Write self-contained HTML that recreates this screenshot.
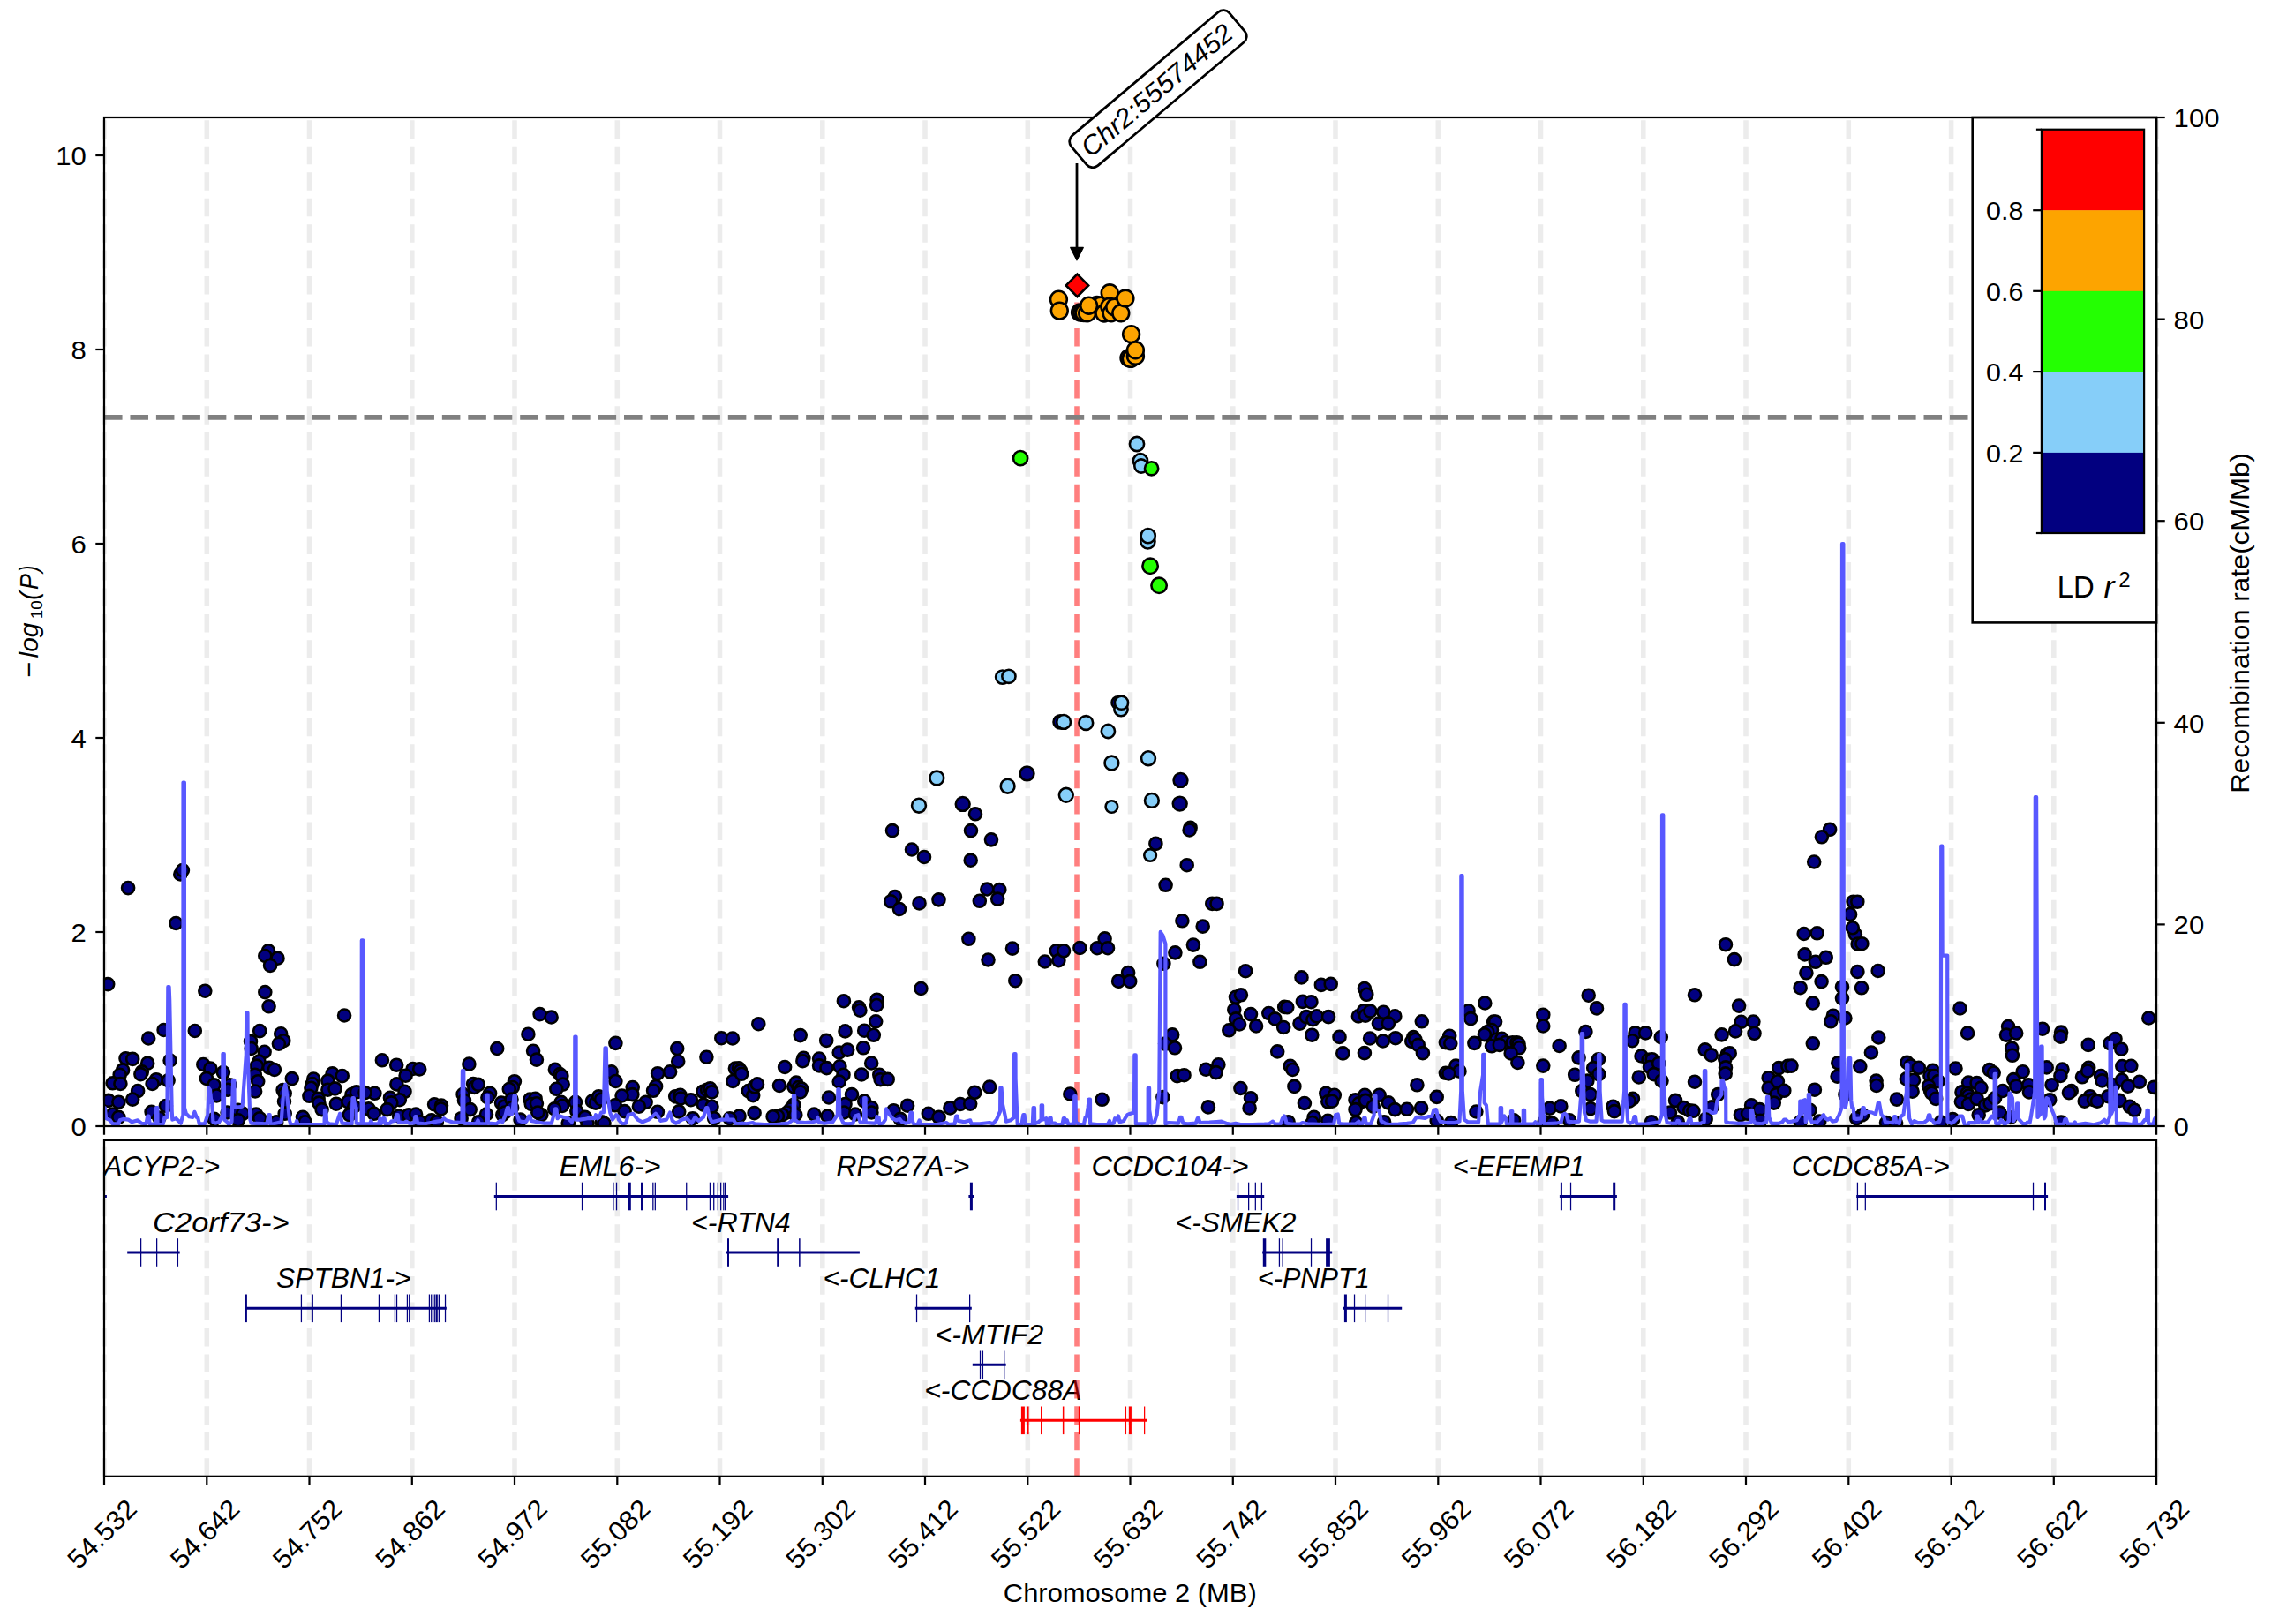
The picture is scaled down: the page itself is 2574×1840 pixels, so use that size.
<!DOCTYPE html>
<html><head><meta charset="utf-8"><title>Regional plot</title><style>html,body{margin:0;padding:0;background:#fff}svg{display:block}</style></head><body>
<svg width="2574" height="1840" viewBox="0 0 2574 1840" font-family="'Liberation Sans', sans-serif" fill="#000">
<rect width="2574" height="1840" fill="#fff"/>
<defs><clipPath id="cp"><rect x="118.0" y="133.0" width="2325.06" height="1143.0"/></clipPath><clipPath id="cg"><rect x="118.0" y="1291.9" width="2325.06" height="380.89999999999986"/></clipPath></defs>
<g stroke="#ececec" stroke-width="5.56" stroke-dasharray="20.56 8.89" fill="none">
<path d="M118 1276.0V133.0"/>
<path d="M118 1672.8V1291.9"/>
<path d="M234.3 1276.0V133.0"/>
<path d="M234.3 1672.8V1291.9"/>
<path d="M350.5 1276.0V133.0"/>
<path d="M350.5 1672.8V1291.9"/>
<path d="M466.8 1276.0V133.0"/>
<path d="M466.8 1672.8V1291.9"/>
<path d="M583 1276.0V133.0"/>
<path d="M583 1672.8V1291.9"/>
<path d="M699.3 1276.0V133.0"/>
<path d="M699.3 1672.8V1291.9"/>
<path d="M815.5 1276.0V133.0"/>
<path d="M815.5 1672.8V1291.9"/>
<path d="M931.8 1276.0V133.0"/>
<path d="M931.8 1672.8V1291.9"/>
<path d="M1048 1276.0V133.0"/>
<path d="M1048 1672.8V1291.9"/>
<path d="M1164.3 1276.0V133.0"/>
<path d="M1164.3 1672.8V1291.9"/>
<path d="M1280.5 1276.0V133.0"/>
<path d="M1280.5 1672.8V1291.9"/>
<path d="M1396.8 1276.0V133.0"/>
<path d="M1396.8 1672.8V1291.9"/>
<path d="M1513 1276.0V133.0"/>
<path d="M1513 1672.8V1291.9"/>
<path d="M1629.3 1276.0V133.0"/>
<path d="M1629.3 1672.8V1291.9"/>
<path d="M1745.5 1276.0V133.0"/>
<path d="M1745.5 1672.8V1291.9"/>
<path d="M1861.8 1276.0V133.0"/>
<path d="M1861.8 1672.8V1291.9"/>
<path d="M1978 1276.0V133.0"/>
<path d="M1978 1672.8V1291.9"/>
<path d="M2094.3 1276.0V133.0"/>
<path d="M2094.3 1672.8V1291.9"/>
<path d="M2210.6 1276.0V133.0"/>
<path d="M2210.6 1672.8V1291.9"/>
<path d="M2326.8 1276.0V133.0"/>
<path d="M2326.8 1672.8V1291.9"/>
<path d="M2443.1 1276.0V133.0"/>
<path d="M2443.1 1672.8V1291.9"/>
</g>
<g stroke="#ff0000" stroke-opacity="0.5" stroke-width="5.56" stroke-dasharray="20.56 8.89" fill="none"><path d="M1220.0 1276.0V323.4"/></g>
<path d="M118.0 472.9H2443.06" stroke="#808080" stroke-width="5.56" stroke-dasharray="20.56 8.89" fill="none"/>
<g clip-path="url(#cp)" stroke="#000" stroke-width="2.6">
<circle cx="122.2" cy="1115.1" r="7" fill="#020080"/>
<circle cx="232.3" cy="1122.7" r="7" fill="#020080"/>
<circle cx="304" cy="1077.3" r="7" fill="#020080"/>
<circle cx="300.3" cy="1083" r="7" fill="#020080"/>
<circle cx="314.5" cy="1085.7" r="7" fill="#020080"/>
<circle cx="306.1" cy="1093.9" r="7" fill="#020080"/>
<circle cx="300.3" cy="1124.1" r="7" fill="#020080"/>
<circle cx="304.6" cy="1140.3" r="7" fill="#020080"/>
<circle cx="390.1" cy="1150.5" r="7" fill="#020080"/>
<circle cx="185.6" cy="1167" r="7" fill="#020080"/>
<circle cx="220.8" cy="1168" r="7" fill="#020080"/>
<circle cx="168.2" cy="1176.5" r="7" fill="#020080"/>
<circle cx="294.2" cy="1168.1" r="7" fill="#020080"/>
<circle cx="318.2" cy="1171.3" r="7" fill="#020080"/>
<circle cx="321.3" cy="1179.2" r="7" fill="#020080"/>
<circle cx="315.9" cy="1182.6" r="7" fill="#020080"/>
<circle cx="284" cy="1179.9" r="7" fill="#020080"/>
<circle cx="284.7" cy="1188" r="7" fill="#020080"/>
<circle cx="299.6" cy="1191.8" r="7" fill="#020080"/>
<circle cx="142.5" cy="1199.2" r="7" fill="#020080"/>
<circle cx="150.2" cy="1199.9" r="7" fill="#020080"/>
<circle cx="167.2" cy="1204.7" r="7" fill="#020080"/>
<circle cx="192.6" cy="1201.5" r="7" fill="#020080"/>
<circle cx="230.3" cy="1206" r="7" fill="#020080"/>
<circle cx="238.4" cy="1210.6" r="7" fill="#020080"/>
<circle cx="252.9" cy="1215.1" r="7" fill="#020080"/>
<circle cx="293.5" cy="1202.6" r="7" fill="#020080"/>
<circle cx="290.8" cy="1207.6" r="7" fill="#020080"/>
<circle cx="305" cy="1209.7" r="7" fill="#020080"/>
<circle cx="310.9" cy="1212" r="7" fill="#020080"/>
<circle cx="139.1" cy="1212.4" r="7" fill="#020080"/>
<circle cx="135.7" cy="1217.8" r="7" fill="#020080"/>
<circle cx="160.8" cy="1214.4" r="7" fill="#020080"/>
<circle cx="159.4" cy="1217.1" r="7" fill="#020080"/>
<circle cx="177" cy="1223.2" r="7" fill="#020080"/>
<circle cx="172.6" cy="1228" r="7" fill="#020080"/>
<circle cx="190.6" cy="1224.2" r="7" fill="#020080"/>
<circle cx="127.6" cy="1227.3" r="7" fill="#020080"/>
<circle cx="136.4" cy="1228" r="7" fill="#020080"/>
<circle cx="233.9" cy="1221.9" r="7" fill="#020080"/>
<circle cx="242.5" cy="1229.3" r="7" fill="#020080"/>
<circle cx="260.3" cy="1229.3" r="7" fill="#020080"/>
<circle cx="258.3" cy="1234.7" r="7" fill="#020080"/>
<circle cx="245.4" cy="1241.5" r="7" fill="#020080"/>
<circle cx="288.8" cy="1217.8" r="7" fill="#020080"/>
<circle cx="292.2" cy="1225.2" r="7" fill="#020080"/>
<circle cx="289.1" cy="1236.5" r="7" fill="#020080"/>
<circle cx="330.8" cy="1222.1" r="7" fill="#020080"/>
<circle cx="320.6" cy="1235.1" r="7" fill="#020080"/>
<circle cx="322.7" cy="1238.8" r="7" fill="#020080"/>
<circle cx="322" cy="1248" r="7" fill="#020080"/>
<circle cx="156.1" cy="1236.1" r="7" fill="#020080"/>
<circle cx="150.2" cy="1245.6" r="7" fill="#020080"/>
<circle cx="122.9" cy="1246.9" r="7" fill="#020080"/>
<circle cx="134.4" cy="1248.7" r="7" fill="#020080"/>
<circle cx="355.2" cy="1222.5" r="7" fill="#020080"/>
<circle cx="353.8" cy="1228" r="7" fill="#020080"/>
<circle cx="352.4" cy="1232.7" r="7" fill="#020080"/>
<circle cx="350.4" cy="1241.8" r="7" fill="#020080"/>
<circle cx="376.6" cy="1216.4" r="7" fill="#020080"/>
<circle cx="387.7" cy="1219.1" r="7" fill="#020080"/>
<circle cx="371.4" cy="1224.6" r="7" fill="#020080"/>
<circle cx="371.4" cy="1234.7" r="7" fill="#020080"/>
<circle cx="379.5" cy="1233.4" r="7" fill="#020080"/>
<circle cx="360.6" cy="1244.9" r="7" fill="#020080"/>
<circle cx="361.3" cy="1249.6" r="7" fill="#020080"/>
<circle cx="364.6" cy="1257.1" r="7" fill="#020080"/>
<circle cx="380.9" cy="1250.7" r="7" fill="#020080"/>
<circle cx="187.9" cy="1253" r="7" fill="#020080"/>
<circle cx="171.6" cy="1259.8" r="7" fill="#020080"/>
<circle cx="127.6" cy="1262.5" r="7" fill="#020080"/>
<circle cx="134.4" cy="1265.9" r="7" fill="#020080"/>
<circle cx="257.6" cy="1260.5" r="7" fill="#020080"/>
<circle cx="269.8" cy="1257.8" r="7" fill="#020080"/>
<circle cx="275.2" cy="1261.8" r="7" fill="#020080"/>
<circle cx="290.1" cy="1262.5" r="7" fill="#020080"/>
<circle cx="294.2" cy="1267.2" r="7" fill="#020080"/>
<circle cx="322.7" cy="1261.8" r="7" fill="#020080"/>
<circle cx="343" cy="1265.9" r="7" fill="#020080"/>
<circle cx="242.7" cy="1267.9" r="7" fill="#020080"/>
<circle cx="398.5" cy="1240.1" r="7" fill="#020080"/>
<circle cx="403.9" cy="1237.4" r="7" fill="#020080"/>
<circle cx="394.4" cy="1248.3" r="7" fill="#020080"/>
<circle cx="401.2" cy="1253.7" r="7" fill="#020080"/>
<circle cx="395.8" cy="1263.2" r="7" fill="#020080"/>
<circle cx="180.4" cy="1266.6" r="7" fill="#020080"/>
<circle cx="313.2" cy="1271.3" r="7" fill="#020080"/>
<circle cx="269.8" cy="1269.3" r="7" fill="#020080"/>
<circle cx="345.7" cy="1271.3" r="7" fill="#020080"/>
<circle cx="432.9" cy="1201.3" r="7" fill="#020080"/>
<circle cx="449.2" cy="1206.7" r="7" fill="#020080"/>
<circle cx="467.7" cy="1211" r="7" fill="#020080"/>
<circle cx="475.2" cy="1211.4" r="7" fill="#020080"/>
<circle cx="459.6" cy="1218.7" r="7" fill="#020080"/>
<circle cx="449.4" cy="1228.4" r="7" fill="#020080"/>
<circle cx="458.5" cy="1236.8" r="7" fill="#020080"/>
<circle cx="424.4" cy="1238.8" r="7" fill="#020080"/>
<circle cx="413.5" cy="1238.1" r="7" fill="#020080"/>
<circle cx="442" cy="1243.9" r="7" fill="#020080"/>
<circle cx="452.8" cy="1246.2" r="7" fill="#020080"/>
<circle cx="443.3" cy="1249.4" r="7" fill="#020080"/>
<circle cx="438.6" cy="1257.1" r="7" fill="#020080"/>
<circle cx="417.6" cy="1256.4" r="7" fill="#020080"/>
<circle cx="423.7" cy="1261.8" r="7" fill="#020080"/>
<circle cx="452.1" cy="1264.5" r="7" fill="#020080"/>
<circle cx="463" cy="1263.2" r="7" fill="#020080"/>
<circle cx="471.1" cy="1262.5" r="7" fill="#020080"/>
<circle cx="475.8" cy="1271.3" r="7" fill="#020080"/>
<circle cx="492.1" cy="1251.3" r="7" fill="#020080"/>
<circle cx="500" cy="1252.6" r="7" fill="#020080"/>
<circle cx="499.6" cy="1256.4" r="7" fill="#020080"/>
<circle cx="488.7" cy="1269.3" r="7" fill="#020080"/>
<circle cx="494.8" cy="1271.3" r="7" fill="#020080"/>
<circle cx="531.4" cy="1205.6" r="7" fill="#020080"/>
<circle cx="563.2" cy="1188" r="7" fill="#020080"/>
<circle cx="536.1" cy="1228" r="7" fill="#020080"/>
<circle cx="537.5" cy="1232" r="7" fill="#020080"/>
<circle cx="541.8" cy="1228.9" r="7" fill="#020080"/>
<circle cx="524.6" cy="1239.9" r="7" fill="#020080"/>
<circle cx="526" cy="1246.9" r="7" fill="#020080"/>
<circle cx="532.7" cy="1257.1" r="7" fill="#020080"/>
<circle cx="522.6" cy="1267.2" r="7" fill="#020080"/>
<circle cx="555.1" cy="1238.8" r="7" fill="#020080"/>
<circle cx="552.4" cy="1243.5" r="7" fill="#020080"/>
<circle cx="568" cy="1249.6" r="7" fill="#020080"/>
<circle cx="571.3" cy="1253.7" r="7" fill="#020080"/>
<circle cx="551" cy="1262.5" r="7" fill="#020080"/>
<circle cx="542.2" cy="1271.3" r="7" fill="#020080"/>
<circle cx="569.3" cy="1263.2" r="7" fill="#020080"/>
<circle cx="572" cy="1260.5" r="7" fill="#020080"/>
<circle cx="582.9" cy="1225.2" r="7" fill="#020080"/>
<circle cx="580.8" cy="1232" r="7" fill="#020080"/>
<circle cx="576.8" cy="1234" r="7" fill="#020080"/>
<circle cx="579.5" cy="1245.6" r="7" fill="#020080"/>
<circle cx="598.4" cy="1171.7" r="7" fill="#020080"/>
<circle cx="604.1" cy="1190.7" r="7" fill="#020080"/>
<circle cx="607.9" cy="1200.6" r="7" fill="#020080"/>
<circle cx="611.6" cy="1149.1" r="7" fill="#020080"/>
<circle cx="624.6" cy="1152.5" r="7" fill="#020080"/>
<circle cx="628.9" cy="1211.7" r="7" fill="#020080"/>
<circle cx="634.3" cy="1217.1" r="7" fill="#020080"/>
<circle cx="636.4" cy="1219.1" r="7" fill="#020080"/>
<circle cx="637.7" cy="1228.6" r="7" fill="#020080"/>
<circle cx="630.3" cy="1233.8" r="7" fill="#020080"/>
<circle cx="600.5" cy="1245.6" r="7" fill="#020080"/>
<circle cx="606.6" cy="1244.9" r="7" fill="#020080"/>
<circle cx="601.8" cy="1251" r="7" fill="#020080"/>
<circle cx="607.9" cy="1250.3" r="7" fill="#020080"/>
<circle cx="635.7" cy="1248.9" r="7" fill="#020080"/>
<circle cx="637" cy="1253" r="7" fill="#020080"/>
<circle cx="628.2" cy="1256.4" r="7" fill="#020080"/>
<circle cx="613.3" cy="1263.2" r="7" fill="#020080"/>
<circle cx="609.3" cy="1260.5" r="7" fill="#020080"/>
<circle cx="589.6" cy="1268.6" r="7" fill="#020080"/>
<circle cx="651.9" cy="1248.9" r="7" fill="#020080"/>
<circle cx="653.3" cy="1259.1" r="7" fill="#020080"/>
<circle cx="662.8" cy="1265.9" r="7" fill="#020080"/>
<circle cx="670.9" cy="1247.6" r="7" fill="#020080"/>
<circle cx="675" cy="1249.6" r="7" fill="#020080"/>
<circle cx="678.3" cy="1242.2" r="7" fill="#020080"/>
<circle cx="681.1" cy="1245.6" r="7" fill="#020080"/>
<circle cx="692.6" cy="1214.4" r="7" fill="#020080"/>
<circle cx="643.8" cy="1272.7" r="7" fill="#020080"/>
<circle cx="665.5" cy="1272.7" r="7" fill="#020080"/>
<circle cx="681.7" cy="1271.3" r="7" fill="#020080"/>
<circle cx="684.4" cy="1272.7" r="7" fill="#020080"/>
<circle cx="580.1" cy="1255" r="7" fill="#020080"/>
<circle cx="697.4" cy="1181.9" r="7" fill="#020080"/>
<circle cx="767.2" cy="1188" r="7" fill="#020080"/>
<circle cx="768.2" cy="1202.5" r="7" fill="#020080"/>
<circle cx="800.4" cy="1197.7" r="7" fill="#020080"/>
<circle cx="817.3" cy="1176.2" r="7" fill="#020080"/>
<circle cx="829.9" cy="1176.5" r="7" fill="#020080"/>
<circle cx="859.3" cy="1160.2" r="7" fill="#020080"/>
<circle cx="906.7" cy="1173.1" r="7" fill="#020080"/>
<circle cx="936.2" cy="1178.9" r="7" fill="#020080"/>
<circle cx="955.9" cy="1134.2" r="7" fill="#020080"/>
<circle cx="973.1" cy="1141.3" r="7" fill="#020080"/>
<circle cx="974.4" cy="1144.7" r="7" fill="#020080"/>
<circle cx="957.5" cy="1168.4" r="7" fill="#020080"/>
<circle cx="979.2" cy="1167.7" r="7" fill="#020080"/>
<circle cx="978.1" cy="1187.3" r="7" fill="#020080"/>
<circle cx="950.7" cy="1192.5" r="7" fill="#020080"/>
<circle cx="960.2" cy="1189.6" r="7" fill="#020080"/>
<circle cx="928.1" cy="1199.5" r="7" fill="#020080"/>
<circle cx="928.1" cy="1207.4" r="7" fill="#020080"/>
<circle cx="936.5" cy="1210.1" r="7" fill="#020080"/>
<circle cx="910.4" cy="1198.8" r="7" fill="#020080"/>
<circle cx="909.4" cy="1202.2" r="7" fill="#020080"/>
<circle cx="889.1" cy="1209" r="7" fill="#020080"/>
<circle cx="951.4" cy="1208.3" r="7" fill="#020080"/>
<circle cx="955.5" cy="1217.8" r="7" fill="#020080"/>
<circle cx="950.7" cy="1225.5" r="7" fill="#020080"/>
<circle cx="976.1" cy="1217.5" r="7" fill="#020080"/>
<circle cx="939" cy="1243.5" r="7" fill="#020080"/>
<circle cx="965" cy="1240.1" r="7" fill="#020080"/>
<circle cx="759.1" cy="1214.4" r="7" fill="#020080"/>
<circle cx="745.1" cy="1216.2" r="7" fill="#020080"/>
<circle cx="697.4" cy="1225" r="7" fill="#020080"/>
<circle cx="716.7" cy="1232" r="7" fill="#020080"/>
<circle cx="716.4" cy="1240.1" r="7" fill="#020080"/>
<circle cx="704.6" cy="1241.5" r="7" fill="#020080"/>
<circle cx="743.1" cy="1230.9" r="7" fill="#020080"/>
<circle cx="740.1" cy="1235.8" r="7" fill="#020080"/>
<circle cx="731.6" cy="1248.9" r="7" fill="#020080"/>
<circle cx="723.9" cy="1253.7" r="7" fill="#020080"/>
<circle cx="696.8" cy="1252.3" r="7" fill="#020080"/>
<circle cx="707.6" cy="1259.1" r="7" fill="#020080"/>
<circle cx="744.9" cy="1259.8" r="7" fill="#020080"/>
<circle cx="765.2" cy="1242.2" r="7" fill="#020080"/>
<circle cx="770.6" cy="1240.8" r="7" fill="#020080"/>
<circle cx="771.3" cy="1244.5" r="7" fill="#020080"/>
<circle cx="782.8" cy="1246.2" r="7" fill="#020080"/>
<circle cx="769.2" cy="1259.4" r="7" fill="#020080"/>
<circle cx="784.8" cy="1267.2" r="7" fill="#020080"/>
<circle cx="796.3" cy="1236.8" r="7" fill="#020080"/>
<circle cx="801.1" cy="1234.7" r="7" fill="#020080"/>
<circle cx="804.5" cy="1233.4" r="7" fill="#020080"/>
<circle cx="806.5" cy="1237.4" r="7" fill="#020080"/>
<circle cx="797" cy="1251.7" r="7" fill="#020080"/>
<circle cx="806.5" cy="1253.7" r="7" fill="#020080"/>
<circle cx="830.2" cy="1225" r="7" fill="#020080"/>
<circle cx="832.9" cy="1210.6" r="7" fill="#020080"/>
<circle cx="837" cy="1210.3" r="7" fill="#020080"/>
<circle cx="839" cy="1213.1" r="7" fill="#020080"/>
<circle cx="840.1" cy="1216.8" r="7" fill="#020080"/>
<circle cx="847.8" cy="1236.1" r="7" fill="#020080"/>
<circle cx="853.2" cy="1241.2" r="7" fill="#020080"/>
<circle cx="854.6" cy="1231.3" r="7" fill="#020080"/>
<circle cx="858" cy="1228.4" r="7" fill="#020080"/>
<circle cx="837.6" cy="1264.5" r="7" fill="#020080"/>
<circle cx="854.6" cy="1261.1" r="7" fill="#020080"/>
<circle cx="883" cy="1230" r="7" fill="#020080"/>
<circle cx="899.3" cy="1231.3" r="7" fill="#020080"/>
<circle cx="902" cy="1226.6" r="7" fill="#020080"/>
<circle cx="904.7" cy="1232" r="7" fill="#020080"/>
<circle cx="908.1" cy="1233.6" r="7" fill="#020080"/>
<circle cx="906.7" cy="1237.4" r="7" fill="#020080"/>
<circle cx="899.3" cy="1251.7" r="7" fill="#020080"/>
<circle cx="895.9" cy="1256.4" r="7" fill="#020080"/>
<circle cx="891.8" cy="1260.5" r="7" fill="#020080"/>
<circle cx="886.4" cy="1263.2" r="7" fill="#020080"/>
<circle cx="881" cy="1264.5" r="7" fill="#020080"/>
<circle cx="875.6" cy="1265.2" r="7" fill="#020080"/>
<circle cx="901.3" cy="1263.2" r="7" fill="#020080"/>
<circle cx="922.3" cy="1262.5" r="7" fill="#020080"/>
<circle cx="937.6" cy="1264.5" r="7" fill="#020080"/>
<circle cx="957.5" cy="1251" r="7" fill="#020080"/>
<circle cx="956.2" cy="1260.5" r="7" fill="#020080"/>
<circle cx="969" cy="1262.5" r="7" fill="#020080"/>
<circle cx="979.2" cy="1247.6" r="7" fill="#020080"/>
<circle cx="809.2" cy="1267.2" r="7" fill="#020080"/>
<circle cx="826.8" cy="1267.2" r="7" fill="#020080"/>
<circle cx="1097.4" cy="1063.8" r="7" fill="#020080"/>
<circle cx="1147" cy="1074.6" r="7" fill="#020080"/>
<circle cx="1119.5" cy="1087.5" r="7" fill="#020080"/>
<circle cx="1150.3" cy="1111.2" r="7" fill="#020080"/>
<circle cx="1043.4" cy="1120" r="7" fill="#020080"/>
<circle cx="1183.8" cy="1089.5" r="7" fill="#020080"/>
<circle cx="1196.7" cy="1077.3" r="7" fill="#020080"/>
<circle cx="1199.4" cy="1088.2" r="7" fill="#020080"/>
<circle cx="1205.1" cy="1077.3" r="7" fill="#020080"/>
<circle cx="1223.4" cy="1074" r="7" fill="#020080"/>
<circle cx="1243" cy="1074.2" r="7" fill="#020080"/>
<circle cx="1251.6" cy="1063.4" r="7" fill="#020080"/>
<circle cx="1255" cy="1074.2" r="7" fill="#020080"/>
<circle cx="1267.1" cy="1111.7" r="7" fill="#020080"/>
<circle cx="993.5" cy="1132.7" r="7" fill="#020080"/>
<circle cx="993.1" cy="1139" r="7" fill="#020080"/>
<circle cx="992.2" cy="1157.3" r="7" fill="#020080"/>
<circle cx="989.8" cy="1172.8" r="7" fill="#020080"/>
<circle cx="987.2" cy="1204.5" r="7" fill="#020080"/>
<circle cx="996.3" cy="1217.8" r="7" fill="#020080"/>
<circle cx="997.6" cy="1223.2" r="7" fill="#020080"/>
<circle cx="1005.7" cy="1222.9" r="7" fill="#020080"/>
<circle cx="987.4" cy="1255" r="7" fill="#020080"/>
<circle cx="987.4" cy="1260.5" r="7" fill="#020080"/>
<circle cx="1012.5" cy="1258.2" r="7" fill="#020080"/>
<circle cx="1028.1" cy="1252.7" r="7" fill="#020080"/>
<circle cx="1020" cy="1267.9" r="7" fill="#020080"/>
<circle cx="1051.8" cy="1261.8" r="7" fill="#020080"/>
<circle cx="1063.6" cy="1265.9" r="7" fill="#020080"/>
<circle cx="1076.4" cy="1255.4" r="7" fill="#020080"/>
<circle cx="1088" cy="1251" r="7" fill="#020080"/>
<circle cx="1099.2" cy="1250.6" r="7" fill="#020080"/>
<circle cx="1104.3" cy="1237.8" r="7" fill="#020080"/>
<circle cx="1121.1" cy="1231.6" r="7" fill="#020080"/>
<circle cx="1212.3" cy="1239.5" r="7" fill="#020080"/>
<circle cx="1248.6" cy="1245.8" r="7" fill="#020080"/>
<circle cx="1351.9" cy="1070.6" r="7" fill="#020080"/>
<circle cx="1331.4" cy="1079.4" r="7" fill="#020080"/>
<circle cx="1359.4" cy="1089.8" r="7" fill="#020080"/>
<circle cx="1318.4" cy="1091.8" r="7" fill="#020080"/>
<circle cx="1278.1" cy="1102" r="7" fill="#020080"/>
<circle cx="1280.2" cy="1111.9" r="7" fill="#020080"/>
<circle cx="1411.1" cy="1100.2" r="7" fill="#020080"/>
<circle cx="1474.5" cy="1107.4" r="7" fill="#020080"/>
<circle cx="1496.9" cy="1115.9" r="7" fill="#020080"/>
<circle cx="1507.7" cy="1114.9" r="7" fill="#020080"/>
<circle cx="1400" cy="1129.8" r="7" fill="#020080"/>
<circle cx="1405.9" cy="1127.3" r="7" fill="#020080"/>
<circle cx="1545.9" cy="1120" r="7" fill="#020080"/>
<circle cx="1548.3" cy="1126.8" r="7" fill="#020080"/>
<circle cx="1475.9" cy="1134.9" r="7" fill="#020080"/>
<circle cx="1485.4" cy="1135.2" r="7" fill="#020080"/>
<circle cx="1455.2" cy="1140.9" r="7" fill="#020080"/>
<circle cx="1458.3" cy="1141.3" r="7" fill="#020080"/>
<circle cx="1398.3" cy="1144" r="7" fill="#020080"/>
<circle cx="1417" cy="1149.1" r="7" fill="#020080"/>
<circle cx="1437.3" cy="1148" r="7" fill="#020080"/>
<circle cx="1444.5" cy="1154.4" r="7" fill="#020080"/>
<circle cx="1400" cy="1154.4" r="7" fill="#020080"/>
<circle cx="1404.1" cy="1160.5" r="7" fill="#020080"/>
<circle cx="1423.1" cy="1162.5" r="7" fill="#020080"/>
<circle cx="1454.2" cy="1164" r="7" fill="#020080"/>
<circle cx="1392.3" cy="1167.3" r="7" fill="#020080"/>
<circle cx="1472.5" cy="1159.6" r="7" fill="#020080"/>
<circle cx="1479.9" cy="1152.1" r="7" fill="#020080"/>
<circle cx="1487.4" cy="1155.2" r="7" fill="#020080"/>
<circle cx="1491.7" cy="1151.4" r="7" fill="#020080"/>
<circle cx="1505" cy="1152.1" r="7" fill="#020080"/>
<circle cx="1538.9" cy="1151.4" r="7" fill="#020080"/>
<circle cx="1545" cy="1145.3" r="7" fill="#020080"/>
<circle cx="1547" cy="1150.7" r="7" fill="#020080"/>
<circle cx="1552.4" cy="1145.6" r="7" fill="#020080"/>
<circle cx="1561.9" cy="1159.6" r="7" fill="#020080"/>
<circle cx="1486.3" cy="1172.7" r="7" fill="#020080"/>
<circle cx="1517.5" cy="1174.9" r="7" fill="#020080"/>
<circle cx="1552.1" cy="1176.5" r="7" fill="#020080"/>
<circle cx="1328.2" cy="1172.4" r="7" fill="#020080"/>
<circle cx="1320.1" cy="1182.6" r="7" fill="#020080"/>
<circle cx="1331" cy="1187.3" r="7" fill="#020080"/>
<circle cx="1447.2" cy="1191.4" r="7" fill="#020080"/>
<circle cx="1521.3" cy="1193.4" r="7" fill="#020080"/>
<circle cx="1545.9" cy="1193.1" r="7" fill="#020080"/>
<circle cx="1461.7" cy="1207.9" r="7" fill="#020080"/>
<circle cx="1464.4" cy="1212" r="7" fill="#020080"/>
<circle cx="1380.4" cy="1206.3" r="7" fill="#020080"/>
<circle cx="1366.2" cy="1211.7" r="7" fill="#020080"/>
<circle cx="1377.7" cy="1215.1" r="7" fill="#020080"/>
<circle cx="1333.7" cy="1219.1" r="7" fill="#020080"/>
<circle cx="1341.5" cy="1218.2" r="7" fill="#020080"/>
<circle cx="1405.4" cy="1233" r="7" fill="#020080"/>
<circle cx="1466.4" cy="1230.9" r="7" fill="#020080"/>
<circle cx="1417" cy="1244.2" r="7" fill="#020080"/>
<circle cx="1317.4" cy="1243.1" r="7" fill="#020080"/>
<circle cx="1368.9" cy="1254.4" r="7" fill="#020080"/>
<circle cx="1415.6" cy="1255.4" r="7" fill="#020080"/>
<circle cx="1477.9" cy="1250" r="7" fill="#020080"/>
<circle cx="1502.3" cy="1238.8" r="7" fill="#020080"/>
<circle cx="1511.8" cy="1240.8" r="7" fill="#020080"/>
<circle cx="1504.3" cy="1248.3" r="7" fill="#020080"/>
<circle cx="1509.1" cy="1247.6" r="7" fill="#020080"/>
<circle cx="1488.7" cy="1265.9" r="7" fill="#020080"/>
<circle cx="1504.3" cy="1269.9" r="7" fill="#020080"/>
<circle cx="1459.6" cy="1271.3" r="7" fill="#020080"/>
<circle cx="1535.5" cy="1246.2" r="7" fill="#020080"/>
<circle cx="1539.5" cy="1250.3" r="7" fill="#020080"/>
<circle cx="1546.3" cy="1240.8" r="7" fill="#020080"/>
<circle cx="1547" cy="1246.9" r="7" fill="#020080"/>
<circle cx="1535.5" cy="1257.1" r="7" fill="#020080"/>
<circle cx="1555.8" cy="1253.7" r="7" fill="#020080"/>
<circle cx="1562.6" cy="1240.8" r="7" fill="#020080"/>
<circle cx="1536.2" cy="1272" r="7" fill="#020080"/>
<circle cx="1486.7" cy="1272" r="7" fill="#020080"/>
<circle cx="1567.4" cy="1146.7" r="7" fill="#020080"/>
<circle cx="1580.3" cy="1151.4" r="7" fill="#020080"/>
<circle cx="1572.9" cy="1159.6" r="7" fill="#020080"/>
<circle cx="1566.8" cy="1179.5" r="7" fill="#020080"/>
<circle cx="1581" cy="1176.2" r="7" fill="#020080"/>
<circle cx="1610.8" cy="1157.3" r="7" fill="#020080"/>
<circle cx="1601.3" cy="1175.1" r="7" fill="#020080"/>
<circle cx="1599.3" cy="1179.9" r="7" fill="#020080"/>
<circle cx="1603.3" cy="1177.8" r="7" fill="#020080"/>
<circle cx="1606.7" cy="1183.9" r="7" fill="#020080"/>
<circle cx="1611.9" cy="1193.1" r="7" fill="#020080"/>
<circle cx="1642.2" cy="1173.8" r="7" fill="#020080"/>
<circle cx="1637.9" cy="1181.2" r="7" fill="#020080"/>
<circle cx="1643.3" cy="1182.3" r="7" fill="#020080"/>
<circle cx="1663.6" cy="1145.3" r="7" fill="#020080"/>
<circle cx="1666.3" cy="1154.1" r="7" fill="#020080"/>
<circle cx="1682.3" cy="1136.5" r="7" fill="#020080"/>
<circle cx="1692.1" cy="1157.5" r="7" fill="#020080"/>
<circle cx="1694.1" cy="1157.5" r="7" fill="#020080"/>
<circle cx="1690" cy="1167" r="7" fill="#020080"/>
<circle cx="1685.3" cy="1169" r="7" fill="#020080"/>
<circle cx="1681.9" cy="1172.1" r="7" fill="#020080"/>
<circle cx="1670.4" cy="1181.9" r="7" fill="#020080"/>
<circle cx="1695.4" cy="1177.8" r="7" fill="#020080"/>
<circle cx="1701.5" cy="1176.8" r="7" fill="#020080"/>
<circle cx="1705.6" cy="1181" r="7" fill="#020080"/>
<circle cx="1690" cy="1185.3" r="7" fill="#020080"/>
<circle cx="1698.8" cy="1183.9" r="7" fill="#020080"/>
<circle cx="1713.7" cy="1181.2" r="7" fill="#020080"/>
<circle cx="1718.5" cy="1181.2" r="7" fill="#020080"/>
<circle cx="1720.5" cy="1182.6" r="7" fill="#020080"/>
<circle cx="1721.2" cy="1187.3" r="7" fill="#020080"/>
<circle cx="1711.7" cy="1193.4" r="7" fill="#020080"/>
<circle cx="1719.4" cy="1204" r="7" fill="#020080"/>
<circle cx="1748.3" cy="1149.8" r="7" fill="#020080"/>
<circle cx="1748.3" cy="1162.5" r="7" fill="#020080"/>
<circle cx="1766.6" cy="1185" r="7" fill="#020080"/>
<circle cx="1748.3" cy="1207.6" r="7" fill="#020080"/>
<circle cx="1799.7" cy="1127.7" r="7" fill="#020080"/>
<circle cx="1809" cy="1142.4" r="7" fill="#020080"/>
<circle cx="1796.4" cy="1169" r="7" fill="#020080"/>
<circle cx="1788.6" cy="1198.4" r="7" fill="#020080"/>
<circle cx="1811" cy="1200.2" r="7" fill="#020080"/>
<circle cx="1805.2" cy="1210.1" r="7" fill="#020080"/>
<circle cx="1811.3" cy="1217.1" r="7" fill="#020080"/>
<circle cx="1784.2" cy="1217.8" r="7" fill="#020080"/>
<circle cx="1798.4" cy="1224.6" r="7" fill="#020080"/>
<circle cx="1792.3" cy="1236.1" r="7" fill="#020080"/>
<circle cx="1801.8" cy="1240.1" r="7" fill="#020080"/>
<circle cx="1802" cy="1256.1" r="7" fill="#020080"/>
<circle cx="1852.6" cy="1170.4" r="7" fill="#020080"/>
<circle cx="1849.2" cy="1179.2" r="7" fill="#020080"/>
<circle cx="1849.9" cy="1244.9" r="7" fill="#020080"/>
<circle cx="1845.8" cy="1247.6" r="7" fill="#020080"/>
<circle cx="1827.5" cy="1253.7" r="7" fill="#020080"/>
<circle cx="1828.9" cy="1259.1" r="7" fill="#020080"/>
<circle cx="1649.4" cy="1207.6" r="7" fill="#020080"/>
<circle cx="1653.5" cy="1213.7" r="7" fill="#020080"/>
<circle cx="1637.9" cy="1215.8" r="7" fill="#020080"/>
<circle cx="1641.3" cy="1216.4" r="7" fill="#020080"/>
<circle cx="1605.4" cy="1229.3" r="7" fill="#020080"/>
<circle cx="1627.7" cy="1242.9" r="7" fill="#020080"/>
<circle cx="1572.9" cy="1249.4" r="7" fill="#020080"/>
<circle cx="1580.3" cy="1257.1" r="7" fill="#020080"/>
<circle cx="1593.9" cy="1256.8" r="7" fill="#020080"/>
<circle cx="1610.1" cy="1255.4" r="7" fill="#020080"/>
<circle cx="1672.4" cy="1259.5" r="7" fill="#020080"/>
<circle cx="1755.7" cy="1255.7" r="7" fill="#020080"/>
<circle cx="1768.3" cy="1253.4" r="7" fill="#020080"/>
<circle cx="1568.1" cy="1271.3" r="7" fill="#020080"/>
<circle cx="1627.7" cy="1269.9" r="7" fill="#020080"/>
<circle cx="1644" cy="1272" r="7" fill="#020080"/>
<circle cx="1715.1" cy="1269.3" r="7" fill="#020080"/>
<circle cx="1749.6" cy="1271.3" r="7" fill="#020080"/>
<circle cx="1758.4" cy="1272.7" r="7" fill="#020080"/>
<circle cx="1778.1" cy="1269.3" r="7" fill="#020080"/>
<circle cx="1955" cy="1070.2" r="7" fill="#020080"/>
<circle cx="1964.9" cy="1087.1" r="7" fill="#020080"/>
<circle cx="1920" cy="1127.3" r="7" fill="#020080"/>
<circle cx="1970.1" cy="1139.6" r="7" fill="#020080"/>
<circle cx="1972.6" cy="1157.8" r="7" fill="#020080"/>
<circle cx="1986.4" cy="1157.5" r="7" fill="#020080"/>
<circle cx="1966.1" cy="1168.4" r="7" fill="#020080"/>
<circle cx="1950.6" cy="1172.4" r="7" fill="#020080"/>
<circle cx="1987.5" cy="1170.8" r="7" fill="#020080"/>
<circle cx="2043.7" cy="1058" r="7" fill="#020080"/>
<circle cx="2058.6" cy="1057.3" r="7" fill="#020080"/>
<circle cx="2044.6" cy="1081.4" r="7" fill="#020080"/>
<circle cx="2056.8" cy="1089.8" r="7" fill="#020080"/>
<circle cx="2068.7" cy="1084.8" r="7" fill="#020080"/>
<circle cx="2046.4" cy="1102.3" r="7" fill="#020080"/>
<circle cx="2063.6" cy="1112.1" r="7" fill="#020080"/>
<circle cx="2039.6" cy="1119.2" r="7" fill="#020080"/>
<circle cx="2053.8" cy="1136.5" r="7" fill="#020080"/>
<circle cx="2087" cy="1118.2" r="7" fill="#020080"/>
<circle cx="2087" cy="1131.1" r="7" fill="#020080"/>
<circle cx="2076.9" cy="1150.7" r="7" fill="#020080"/>
<circle cx="2074.2" cy="1157.3" r="7" fill="#020080"/>
<circle cx="2090.4" cy="1153.5" r="7" fill="#020080"/>
<circle cx="2053.8" cy="1182.3" r="7" fill="#020080"/>
<circle cx="2101.9" cy="1058.6" r="7" fill="#020080"/>
<circle cx="2104.6" cy="1069.5" r="7" fill="#020080"/>
<circle cx="2109.4" cy="1069.2" r="7" fill="#020080"/>
<circle cx="2104.4" cy="1101" r="7" fill="#020080"/>
<circle cx="2127.7" cy="1100" r="7" fill="#020080"/>
<circle cx="2109" cy="1119.3" r="7" fill="#020080"/>
<circle cx="2128.3" cy="1175.5" r="7" fill="#020080"/>
<circle cx="2119.9" cy="1192.5" r="7" fill="#020080"/>
<circle cx="2107.3" cy="1208.3" r="7" fill="#020080"/>
<circle cx="2082.3" cy="1204.3" r="7" fill="#020080"/>
<circle cx="2081.6" cy="1219.6" r="7" fill="#020080"/>
<circle cx="2125.6" cy="1224.6" r="7" fill="#020080"/>
<circle cx="2125.9" cy="1230" r="7" fill="#020080"/>
<circle cx="2055.9" cy="1234.7" r="7" fill="#020080"/>
<circle cx="2090.4" cy="1240.1" r="7" fill="#020080"/>
<circle cx="1864.2" cy="1170.4" r="7" fill="#020080"/>
<circle cx="1881.8" cy="1175.1" r="7" fill="#020080"/>
<circle cx="1859.5" cy="1196.5" r="7" fill="#020080"/>
<circle cx="1867.6" cy="1200.9" r="7" fill="#020080"/>
<circle cx="1871.7" cy="1200.2" r="7" fill="#020080"/>
<circle cx="1869" cy="1209" r="7" fill="#020080"/>
<circle cx="1879.1" cy="1204.9" r="7" fill="#020080"/>
<circle cx="1873.7" cy="1217.1" r="7" fill="#020080"/>
<circle cx="1882.5" cy="1224.6" r="7" fill="#020080"/>
<circle cx="1856.8" cy="1220.5" r="7" fill="#020080"/>
<circle cx="1931.7" cy="1189.4" r="7" fill="#020080"/>
<circle cx="1938.7" cy="1195.4" r="7" fill="#020080"/>
<circle cx="1957" cy="1194.1" r="7" fill="#020080"/>
<circle cx="1959.7" cy="1193.4" r="7" fill="#020080"/>
<circle cx="1954.3" cy="1200.2" r="7" fill="#020080"/>
<circle cx="1955" cy="1209.4" r="7" fill="#020080"/>
<circle cx="1954.7" cy="1216.4" r="7" fill="#020080"/>
<circle cx="1920" cy="1225.7" r="7" fill="#020080"/>
<circle cx="1946.2" cy="1240.1" r="7" fill="#020080"/>
<circle cx="1939.4" cy="1254.4" r="7" fill="#020080"/>
<circle cx="1898.1" cy="1246.9" r="7" fill="#020080"/>
<circle cx="1892" cy="1260.5" r="7" fill="#020080"/>
<circle cx="1907.6" cy="1255" r="7" fill="#020080"/>
<circle cx="1914.3" cy="1258.4" r="7" fill="#020080"/>
<circle cx="1918.4" cy="1258.8" r="7" fill="#020080"/>
<circle cx="1871" cy="1271.3" r="7" fill="#020080"/>
<circle cx="1900.8" cy="1271.3" r="7" fill="#020080"/>
<circle cx="1932.6" cy="1267.9" r="7" fill="#020080"/>
<circle cx="2003.7" cy="1221.2" r="7" fill="#020080"/>
<circle cx="2003.7" cy="1232.7" r="7" fill="#020080"/>
<circle cx="2013.9" cy="1225.2" r="7" fill="#020080"/>
<circle cx="2012.5" cy="1240.1" r="7" fill="#020080"/>
<circle cx="2021.3" cy="1235.8" r="7" fill="#020080"/>
<circle cx="2009.8" cy="1249.6" r="7" fill="#020080"/>
<circle cx="2015.2" cy="1210.1" r="7" fill="#020080"/>
<circle cx="2025.4" cy="1207.9" r="7" fill="#020080"/>
<circle cx="2029.5" cy="1207.6" r="7" fill="#020080"/>
<circle cx="1984.1" cy="1252.3" r="7" fill="#020080"/>
<circle cx="1993.6" cy="1257.1" r="7" fill="#020080"/>
<circle cx="1971.9" cy="1263.2" r="7" fill="#020080"/>
<circle cx="1980" cy="1261.8" r="7" fill="#020080"/>
<circle cx="1994.3" cy="1269.9" r="7" fill="#020080"/>
<circle cx="2050.5" cy="1257.8" r="7" fill="#020080"/>
<circle cx="2061.3" cy="1270.6" r="7" fill="#020080"/>
<circle cx="2039.6" cy="1271.3" r="7" fill="#020080"/>
<circle cx="2110.1" cy="1263.2" r="7" fill="#020080"/>
<circle cx="2137.1" cy="1272" r="7" fill="#020080"/>
<circle cx="2103.3" cy="1267.2" r="7" fill="#020080"/>
<circle cx="2148" cy="1272.7" r="7" fill="#020080"/>
<circle cx="2220.5" cy="1142.5" r="7" fill="#020080"/>
<circle cx="2229.1" cy="1170.5" r="7" fill="#020080"/>
<circle cx="2275.1" cy="1163" r="7" fill="#020080"/>
<circle cx="2273" cy="1172.6" r="7" fill="#020080"/>
<circle cx="2284.2" cy="1170.5" r="7" fill="#020080"/>
<circle cx="2279.2" cy="1187.6" r="7" fill="#020080"/>
<circle cx="2279.9" cy="1195.8" r="7" fill="#020080"/>
<circle cx="2314" cy="1165.7" r="7" fill="#020080"/>
<circle cx="2335.1" cy="1169.6" r="7" fill="#020080"/>
<circle cx="2334.4" cy="1174.6" r="7" fill="#020080"/>
<circle cx="2365.8" cy="1183.9" r="7" fill="#020080"/>
<circle cx="2390.4" cy="1182.1" r="7" fill="#020080"/>
<circle cx="2396.5" cy="1177.1" r="7" fill="#020080"/>
<circle cx="2403.3" cy="1188.7" r="7" fill="#020080"/>
<circle cx="2434.3" cy="1153.5" r="7" fill="#020080"/>
<circle cx="2160.5" cy="1203.9" r="7" fill="#020080"/>
<circle cx="2164.6" cy="1207.4" r="7" fill="#020080"/>
<circle cx="2173.8" cy="1209.8" r="7" fill="#020080"/>
<circle cx="2159.8" cy="1222.4" r="7" fill="#020080"/>
<circle cx="2168" cy="1223.7" r="7" fill="#020080"/>
<circle cx="2166.6" cy="1236.7" r="7" fill="#020080"/>
<circle cx="2148.9" cy="1245.6" r="7" fill="#020080"/>
<circle cx="2189.8" cy="1212.8" r="7" fill="#020080"/>
<circle cx="2186.4" cy="1219" r="7" fill="#020080"/>
<circle cx="2191.2" cy="1219" r="7" fill="#020080"/>
<circle cx="2195.9" cy="1225.1" r="7" fill="#020080"/>
<circle cx="2185" cy="1230.6" r="7" fill="#020080"/>
<circle cx="2187.1" cy="1236" r="7" fill="#020080"/>
<circle cx="2188.4" cy="1238.7" r="7" fill="#020080"/>
<circle cx="2193.2" cy="1244.9" r="7" fill="#020080"/>
<circle cx="2215.5" cy="1210.5" r="7" fill="#020080"/>
<circle cx="2230.1" cy="1226.5" r="7" fill="#020080"/>
<circle cx="2239.6" cy="1227.1" r="7" fill="#020080"/>
<circle cx="2244.4" cy="1232.6" r="7" fill="#020080"/>
<circle cx="2222.5" cy="1237.4" r="7" fill="#020080"/>
<circle cx="2228.7" cy="1238.7" r="7" fill="#020080"/>
<circle cx="2230.1" cy="1241.5" r="7" fill="#020080"/>
<circle cx="2232.8" cy="1245.6" r="7" fill="#020080"/>
<circle cx="2221.9" cy="1248.3" r="7" fill="#020080"/>
<circle cx="2230.1" cy="1251" r="7" fill="#020080"/>
<circle cx="2239.6" cy="1244.9" r="7" fill="#020080"/>
<circle cx="2249.2" cy="1252.4" r="7" fill="#020080"/>
<circle cx="2254.6" cy="1250.3" r="7" fill="#020080"/>
<circle cx="2241.7" cy="1263.3" r="7" fill="#020080"/>
<circle cx="2253.9" cy="1212.1" r="7" fill="#020080"/>
<circle cx="2258.7" cy="1215.5" r="7" fill="#020080"/>
<circle cx="2260.1" cy="1244.2" r="7" fill="#020080"/>
<circle cx="2268.9" cy="1236" r="7" fill="#020080"/>
<circle cx="2265.5" cy="1260.6" r="7" fill="#020080"/>
<circle cx="2277.8" cy="1266" r="7" fill="#020080"/>
<circle cx="2281.2" cy="1223.1" r="7" fill="#020080"/>
<circle cx="2284.2" cy="1230.6" r="7" fill="#020080"/>
<circle cx="2291.7" cy="1214.2" r="7" fill="#020080"/>
<circle cx="2298.3" cy="1229.2" r="7" fill="#020080"/>
<circle cx="2299" cy="1237.4" r="7" fill="#020080"/>
<circle cx="2318.7" cy="1209.4" r="7" fill="#020080"/>
<circle cx="2324.6" cy="1229.2" r="7" fill="#020080"/>
<circle cx="2322.2" cy="1246.2" r="7" fill="#020080"/>
<circle cx="2336.5" cy="1211.5" r="7" fill="#020080"/>
<circle cx="2334.4" cy="1219" r="7" fill="#020080"/>
<circle cx="2346.7" cy="1236" r="7" fill="#020080"/>
<circle cx="2344" cy="1238.1" r="7" fill="#020080"/>
<circle cx="2359" cy="1220.3" r="7" fill="#020080"/>
<circle cx="2366.2" cy="1209.8" r="7" fill="#020080"/>
<circle cx="2365.1" cy="1213.5" r="7" fill="#020080"/>
<circle cx="2380.1" cy="1219" r="7" fill="#020080"/>
<circle cx="2381.5" cy="1224.4" r="7" fill="#020080"/>
<circle cx="2367.9" cy="1242.2" r="7" fill="#020080"/>
<circle cx="2361.7" cy="1247.6" r="7" fill="#020080"/>
<circle cx="2372" cy="1246.2" r="7" fill="#020080"/>
<circle cx="2376" cy="1247.6" r="7" fill="#020080"/>
<circle cx="2388.3" cy="1242.2" r="7" fill="#020080"/>
<circle cx="2394.5" cy="1229.2" r="7" fill="#020080"/>
<circle cx="2404" cy="1223.7" r="7" fill="#020080"/>
<circle cx="2410.8" cy="1230.6" r="7" fill="#020080"/>
<circle cx="2401.3" cy="1246.9" r="7" fill="#020080"/>
<circle cx="2404.3" cy="1208" r="7" fill="#020080"/>
<circle cx="2414.3" cy="1207.8" r="7" fill="#020080"/>
<circle cx="2423.8" cy="1225.8" r="7" fill="#020080"/>
<circle cx="2412.9" cy="1253.8" r="7" fill="#020080"/>
<circle cx="2418.3" cy="1257.8" r="7" fill="#020080"/>
<circle cx="2440.2" cy="1231.9" r="7" fill="#020080"/>
<circle cx="2212.3" cy="1268.1" r="7" fill="#020080"/>
<circle cx="2198.7" cy="1271.5" r="7" fill="#020080"/>
<circle cx="2335.1" cy="1271.5" r="7" fill="#020080"/>
<circle cx="145.1" cy="1006.1" r="7" fill="#020080"/>
<circle cx="204.3" cy="990.5" r="7" fill="#020080"/>
<circle cx="206.9" cy="986" r="7" fill="#020080"/>
<circle cx="199.3" cy="1046" r="7" fill="#020080"/>
<circle cx="2073.1" cy="939.8" r="7" fill="#020080"/>
<circle cx="2063.9" cy="948.3" r="7" fill="#020080"/>
<circle cx="2055.2" cy="976.5" r="7" fill="#020080"/>
<circle cx="2099.6" cy="1021.7" r="7" fill="#020080"/>
<circle cx="2104.3" cy="1021.7" r="7" fill="#020080"/>
<circle cx="2096.1" cy="1036" r="7" fill="#020080"/>
<circle cx="2098.8" cy="1051.3" r="7" fill="#020080"/>
<circle cx="1266.5" cy="796.2" r="7" fill="#020080"/>
<circle cx="1201.1" cy="817.9" r="7.6" fill="#020080"/>
<circle cx="1163.5" cy="876.4" r="7.9" fill="#020080"/>
<circle cx="1337.5" cy="883.9" r="7.9" fill="#020080"/>
<circle cx="1090.7" cy="910.9" r="7.9" fill="#020080"/>
<circle cx="1336.7" cy="910.6" r="7.9" fill="#020080"/>
<circle cx="1105" cy="922.3" r="7" fill="#020080"/>
<circle cx="1011" cy="941.1" r="7" fill="#020080"/>
<circle cx="1100" cy="941.1" r="7" fill="#020080"/>
<circle cx="1123" cy="951.4" r="7" fill="#020080"/>
<circle cx="1348.6" cy="937.9" r="7" fill="#020080"/>
<circle cx="1347.6" cy="940.5" r="7" fill="#020080"/>
<circle cx="1309.4" cy="955.9" r="7" fill="#020080"/>
<circle cx="1033" cy="962.5" r="7" fill="#020080"/>
<circle cx="1047" cy="971" r="7" fill="#020080"/>
<circle cx="1099.7" cy="974.7" r="7" fill="#020080"/>
<circle cx="1344.7" cy="980.2" r="7" fill="#020080"/>
<circle cx="1320.6" cy="1002.8" r="7" fill="#020080"/>
<circle cx="1118.3" cy="1007.5" r="7" fill="#020080"/>
<circle cx="1132.3" cy="1008" r="7" fill="#020080"/>
<circle cx="1130.2" cy="1018.6" r="7" fill="#020080"/>
<circle cx="1109.8" cy="1020.8" r="7" fill="#020080"/>
<circle cx="1013.9" cy="1016" r="7" fill="#020080"/>
<circle cx="1009.2" cy="1021.3" r="7" fill="#020080"/>
<circle cx="1019" cy="1030" r="7" fill="#020080"/>
<circle cx="1041.5" cy="1023.4" r="7" fill="#020080"/>
<circle cx="1063.5" cy="1019.4" r="7" fill="#020080"/>
<circle cx="1373.3" cy="1023.9" r="7" fill="#020080"/>
<circle cx="1378.5" cy="1023.9" r="7" fill="#020080"/>
<circle cx="1339.4" cy="1043.3" r="7" fill="#020080"/>
<circle cx="1362.7" cy="1049.6" r="7" fill="#020080"/>
<circle cx="1135.7" cy="767.1" r="7.6" fill="#86CEF9"/>
<circle cx="1142.9" cy="766.3" r="7.6" fill="#86CEF9"/>
<circle cx="1270" cy="803.6" r="7.6" fill="#86CEF9"/>
<circle cx="1270.5" cy="796.2" r="7.6" fill="#86CEF9"/>
<circle cx="1205.1" cy="817.9" r="7.9" fill="#86CEF9"/>
<circle cx="1230.3" cy="819" r="7.9" fill="#86CEF9"/>
<circle cx="1255.4" cy="828.5" r="7.6" fill="#86CEF9"/>
<circle cx="1259.4" cy="864.5" r="7.9" fill="#86CEF9"/>
<circle cx="1301" cy="859.2" r="7.9" fill="#86CEF9"/>
<circle cx="1061.3" cy="881.5" r="7.9" fill="#86CEF9"/>
<circle cx="1141.6" cy="890.7" r="7.9" fill="#86CEF9"/>
<circle cx="1207.8" cy="900.8" r="7.9" fill="#86CEF9"/>
<circle cx="1304.9" cy="906.9" r="7.9" fill="#86CEF9"/>
<circle cx="1041" cy="912.7" r="7.9" fill="#86CEF9"/>
<circle cx="1259.4" cy="914" r="6.8" fill="#86CEF9"/>
<circle cx="1303.1" cy="968.9" r="6.8" fill="#86CEF9"/>
<circle cx="1288" cy="503" r="8.1" fill="#86CEF9"/>
<circle cx="1292" cy="522.2" r="8.1" fill="#86CEF9"/>
<circle cx="1292.9" cy="528" r="7.6" fill="#86CEF9"/>
<circle cx="1300.4" cy="613.4" r="8.1" fill="#86CEF9"/>
<circle cx="1300.7" cy="607.1" r="8.1" fill="#86CEF9"/>
<circle cx="1303.1" cy="641.3" r="8.7" fill="#24FF02"/>
<circle cx="1313.1" cy="663.3" r="8.7" fill="#24FF02"/>
<circle cx="1304.6" cy="530.8" r="7.6" fill="#24FF02"/>
<circle cx="1156.1" cy="519.1" r="8.1" fill="#24FF02"/>
<circle cx="1199.4" cy="339.2" r="9.4" fill="#FDA400"/>
<circle cx="1200.3" cy="352.1" r="9.4" fill="#FDA400"/>
<circle cx="1223.6" cy="353.9" r="9.4" fill="#FDA400"/>
<circle cx="1225.8" cy="354.3" r="9.4" fill="#FDA400"/>
<circle cx="1228" cy="354.5" r="9.4" fill="#FDA400"/>
<circle cx="1231.7" cy="354.8" r="9.4" fill="#FDA400"/>
<circle cx="1242.8" cy="345.4" r="9.4" fill="#FDA400"/>
<circle cx="1246.9" cy="346.2" r="9.4" fill="#FDA400"/>
<circle cx="1233.6" cy="346.2" r="9.4" fill="#FDA400"/>
<circle cx="1257.2" cy="331.8" r="9.4" fill="#FDA400"/>
<circle cx="1250.9" cy="355" r="9.4" fill="#FDA400"/>
<circle cx="1256.8" cy="347.3" r="9.4" fill="#FDA400"/>
<circle cx="1259" cy="354.7" r="9.4" fill="#FDA400"/>
<circle cx="1262.7" cy="348" r="9.4" fill="#FDA400"/>
<circle cx="1269.8" cy="354.8" r="9.4" fill="#FDA400"/>
<circle cx="1274.9" cy="338" r="9.4" fill="#FDA400"/>
<circle cx="1281.6" cy="378.7" r="9.4" fill="#FDA400"/>
<circle cx="1279" cy="405.6" r="9.4" fill="#FDA400"/>
<circle cx="1281.2" cy="406.4" r="9.4" fill="#FDA400"/>
<circle cx="1286.4" cy="403.4" r="9.4" fill="#FDA400"/>
<circle cx="1286.4" cy="396.8" r="9.4" fill="#FDA400"/>
<path d="M1220.45 310.7L1233.15 323.4L1220.45 336.09999999999997L1207.75 323.4Z" fill="#FF0000" stroke-linejoin="miter"/>
</g>
<path d="M118 1255L118.8 1255L120.2 1267.2L124.9 1269.3L127.6 1273.3L134.4 1273.3L135.7 1269.3L139.8 1267.9L145.2 1268.6L149.3 1271.3L156.1 1269.3L160.1 1272.7L165.5 1273.3L167.2 1264.5L168.6 1264.5L169.6 1273.3L176.9 1274L177 1255L178.4 1255L178.5 1274L184.5 1274L186.5 1265.9L189.4 1265.9L190.3 1118.2L191.6 1118.2L192.2 1133.1L194.7 1259.1L195.3 1268.6L199.4 1267.2L203.5 1271.3L204.8 1272.7L207.4 1263.2L207.5 886.6L208.9 886.6L209 1255L210.9 1261.8L214.3 1265.2L218.4 1265.9L220.4 1259.8L222.8 1265.9L224.1 1265.9L225.8 1273.3L231.9 1273.3L235.3 1263.2L236.4 1232.7L238 1234.7L239.4 1249.6L240 1246.9L241.4 1271.3L244.1 1272.7L248.2 1271.3L252.3 1263.2L252.4 1194.1L253.8 1194.1L254.1 1268.6L257.6 1271.3L259 1274L262.5 1271.3L264.1 1223.9L265.4 1223.9L265.6 1255L274.6 1253.7L278.8 1195.4L279.2 1147.4L280.5 1147.4L280.7 1195.4L283.4 1268.6L284.7 1272.7L302.3 1273.3L304.4 1263.2L305.7 1263.2L306.4 1274L318.6 1271.3L321.3 1236.1L323.3 1228.6L325.4 1242.9L328.1 1269.9L329.4 1274L334.8 1274L336.2 1269.9L337.5 1274L367.5 1274L368 1257.8L369.4 1257.8L370.1 1271.3L372.8 1273.3L380.9 1274L385 1261.8L387.7 1272.7L398.6 1273.3L399.5 1244.2L400.9 1244.2L402.2 1255L403.6 1255L403.7 1272.7L407.3 1273.3L409.6 1273.3L409.8 1065.4L411.2 1065.4L411.3 1273.3L419 1273.3L420.3 1269.9L421.7 1273.3L429.1 1273.3L430.5 1267.2L431.8 1273.3L434.2 1267.2L435.6 1267.2L436.6 1273.3L442 1272.7L443.3 1270.6L447.4 1269.9L449.4 1263.2L450.8 1263.2L451.5 1271.3L458.2 1272L460.3 1270.6L463.7 1272.7L469.1 1272.7L470.4 1265.2L471.8 1265.2L473.1 1272.7L481.3 1273.3L488 1272L494.8 1270.6L500.2 1269.9L502.9 1267.2L505.6 1269.3L512.4 1271.3L523.4 1272L523.9 1213.1L525.3 1213.1L525.4 1272.7L539.5 1273.3L541.5 1269.3L542.9 1273.3L551.2 1273.3L551.4 1240.8L552.7 1240.8L552.9 1272.7L562.5 1273.3L566.6 1269.9L569.3 1271.3L572.7 1263.2L574.7 1255L576.1 1255L576.8 1261.8L580.3 1261.8L582.5 1241.5L583.9 1241.5L584.7 1260.5L588.3 1269.9L592.3 1271.3L596.4 1270.6L599.1 1264.5L600.5 1264.5L601.8 1269.9L608.6 1271.3L616.7 1272.7L624.8 1272.7L627.5 1263.2L628.9 1256.4L630.3 1256.4L631.6 1267.2L634.3 1264.5L638.4 1265.9L643.8 1267.2L647.9 1271.3L651.1 1263.2L651.3 1174.5L652.6 1174.5L652.7 1268.6L657.3 1268.6L665.5 1267.2L673.6 1267.2L675 1263.2L677 1267.2L679 1265.9L681.1 1260.5L683.9 1260.5L685.5 1187.3L686.8 1187.3L687.7 1236.1L691.2 1260.5L693.9 1268.6L698 1263.2L700 1264.5L700.8 1268.6L704.9 1273.3L709 1272.7L711.7 1263.2L717.1 1261.8L722.5 1268.6L727.9 1271.3L734.7 1268.6L742.8 1261.8L745.5 1264.5L748.2 1269.9L755 1268.6L759.1 1260.5L761.8 1269.9L765.8 1272.7L772.6 1268.6L778 1267.2L783.5 1272.7L787.5 1265.9L791.6 1269.9L797 1265.9L800.1 1255L801.4 1255L803.8 1265.9L806.5 1271.3L811.9 1269.9L817.3 1268.6L822.7 1268.6L823.4 1263.2L824.8 1268.6L830.9 1268.6L833.6 1273.3L841.7 1272.7L845.8 1273.3L852.5 1272L855.2 1273.3L866.1 1274L879.6 1274L893.2 1272.7L898.7 1268.6L898.9 1241.5L900.3 1241.5L900.5 1268.6L904 1271.3L912.1 1272L920.3 1271.3L925.7 1269.9L926.4 1265.9L927.7 1271.3L933.8 1272.7L943.3 1271.3L948.8 1263.2L949.4 1234L950.7 1234L951.3 1263.2L955.5 1272.7L960.9 1273.3L966.3 1272.7L969 1264.5L972.4 1263.2L974.4 1271.3L979.1 1272L979.2 1244.2L980.6 1244.2L980.7 1272L990 1272.7L992.2 1272.7L993.5 1265.2L995.6 1265.9L996.3 1273.3L1000.3 1272.7L1003 1268.6L1004.1 1256.4L1007.1 1261.8L1011.2 1267.2L1015.2 1269.3L1019.3 1267.9L1022 1271.3L1026.1 1272.7L1030.1 1271.3L1031.5 1260.5L1032.9 1260.5L1034.2 1271.3L1035.5 1274L1039.6 1274L1041.6 1269.3L1043 1274L1061.3 1274L1072.1 1272L1074.8 1274L1081.6 1273.3L1083.3 1264.5L1084.6 1264.5L1085.6 1269.9L1092.4 1271.3L1099.2 1269.3L1100.5 1273.3L1110 1273.3L1120.9 1272L1124.9 1273.3L1129 1268.6L1133.1 1259.1L1133.3 1232.7L1134.6 1232.7L1135.6 1249.6L1138.5 1263.2L1139.8 1270.6L1145.2 1269.3L1149 1265.9L1149.1 1194.1L1150.5 1194.1L1150.6 1222.5L1152.7 1274L1157.4 1274L1159.3 1263.2L1160.6 1263.2L1161.5 1274L1169.8 1274L1170.6 1255L1172 1255L1172.2 1273.3L1176.4 1271.3L1179.6 1268.6L1179.7 1252.3L1181.1 1252.3L1181.2 1268.6L1185.2 1267.2L1185.9 1274L1188.6 1274L1189.3 1266.6L1190.6 1266.6L1191.3 1272.7L1195.4 1272.7L1196.7 1274L1203.5 1274L1204.8 1267.2L1206.2 1267.2L1206.9 1271.3L1208.9 1269.3L1210.3 1274L1217.1 1273.3L1217.2 1242.2L1218.6 1242.2L1218.9 1271.3L1222.4 1274L1227.9 1274L1229.6 1265.9L1230.9 1265.9L1232.6 1255L1233.6 1245.6L1235 1245.6L1235.1 1273.3L1242.8 1274L1255 1274L1257 1269.9L1258.3 1273.3L1261.7 1272.7L1263.1 1267.2L1265.1 1268.6L1267.1 1264.5L1268.5 1271.3L1273.2 1269.9L1274.6 1267.2L1277.3 1263.2L1280 1261.8L1280.8 1261.8L1285 1260.5L1285.3 1195.4L1286.7 1195.4L1286.8 1273.3L1294.4 1273.3L1300.6 1273.3L1300.7 1232.7L1302.1 1232.7L1302.2 1257.8L1304.5 1272.7L1307.9 1271.3L1310.6 1263.2L1313.3 1236.1L1314.7 1055.9L1317.4 1060L1320.4 1069.5L1320.4 1273.3L1324.2 1272L1335 1272.7L1337 1265.9L1338.4 1265.9L1340.4 1272.7L1345.8 1273.3L1354.7 1272.7L1356.7 1267.2L1358 1267.2L1359.4 1272L1370.2 1271.6L1378.4 1271L1383.8 1270.6L1389.2 1272.7L1394.6 1273.7L1400 1272.9L1405.4 1274L1419 1274L1432.5 1273.7L1438 1273.3L1442 1270.6L1444.7 1273.7L1450.8 1273.3L1452.9 1267.2L1454.9 1264.5L1456.2 1267.2L1457.6 1272.7L1465 1273.7L1473.2 1273.3L1475.9 1272L1481.3 1273.3L1500.3 1274L1511.1 1273.7L1513.1 1263.2L1515.8 1262.5L1517.2 1272.7L1521.9 1273.7L1535.5 1273.7L1539.5 1270.6L1540.9 1273.7L1543.6 1273.3L1545.3 1266.6L1546.6 1266.6L1547.7 1273.3L1553.1 1273.3L1556.6 1263.2L1557.1 1241.5L1558.5 1241.5L1558.6 1256.4L1562.6 1259.1L1564.6 1269.9L1570 1273.3L1573.5 1274L1584.4 1273.7L1593.9 1272.9L1600.6 1272L1604.7 1265.9L1608.8 1266.1L1614.2 1267L1618.2 1265.2L1622.3 1264.8L1624.3 1257.8L1627 1257.1L1629.1 1265.9L1631.8 1270.6L1638.6 1272L1648 1272L1653.5 1270.6L1655.2 1236.1L1655.3 992L1656.6 992L1656.8 1236.1L1658.9 1268.6L1662.9 1271.3L1675.1 1271.3L1677.2 1236.1L1680.1 1217.8L1680.2 1194.8L1681.6 1194.8L1681.7 1249.6L1683.9 1252.3L1685.3 1268.6L1686 1273.7L1699.6 1273.7L1699.7 1255L1701.1 1255L1701.2 1271.3L1704.3 1264.5L1706.3 1268.6L1707 1273.7L1711.8 1273.7L1711.9 1259.1L1713.3 1259.1L1713.4 1273.7L1725.7 1273.7L1725.8 1257.8L1727.1 1257.8L1727.3 1273.7L1737.4 1273.7L1739.5 1271.3L1741.5 1273.7L1745.4 1273.3L1745.6 1223.2L1746.9 1223.2L1747.1 1242.9L1749.6 1273.3L1763.2 1272.7L1768.6 1271.3L1770.6 1263.2L1772.7 1261.8L1774.7 1263.2L1776.7 1270.6L1782.1 1271.3L1788.9 1270.6L1791.6 1236.1L1791.7 1171.1L1793.1 1171.1L1793.2 1195.4L1795 1260.5L1797 1269.3L1801.1 1270.6L1808.5 1270.6L1811 1236.1L1811.1 1194.8L1812.5 1194.8L1812.6 1236.1L1814.6 1269.3L1817.3 1270.6L1837.7 1270.6L1840.2 1236.1L1840.4 1137.9L1841.7 1137.9L1841.9 1236.1L1844.2 1270.6L1847.1 1272.7L1849.9 1271.3L1851.5 1265.2L1852.9 1265.2L1854.2 1273.3L1860 1273.7L1863.5 1273.7L1874.4 1272L1879.8 1271.3L1882.8 1263.2L1883 923.3L1884.3 923.3L1884.5 1206.3L1886.8 1263.2L1888.6 1272L1894.7 1272.9L1899.4 1272.9L1900.4 1269.9L1901.7 1269.9L1902.6 1273.3L1911.6 1273.3L1914 1267.2L1915.4 1267.2L1916.4 1273.3L1925.8 1272.9L1930.7 1271.3L1930.9 1213.1L1932.3 1213.1L1932.5 1257.8L1936.7 1259.1L1939.4 1261.1L1943.5 1260.5L1945.5 1246.9L1950.4 1240.1L1950.5 1223.9L1951.9 1223.9L1953.8 1233.4L1955.2 1233.4L1955.3 1271.3L1958.4 1272L1969.2 1272.9L1977.3 1272.7L1983.6 1272L1983.8 1257.8L1985.1 1257.8L1986.8 1268.6L1988.2 1272.7L1996.3 1273.3L2001.2 1271.3L2002 1242.9L2003.4 1242.9L2004.3 1265.9L2007.1 1272.9L2015.2 1272.9L2019.3 1271.3L2021.3 1268.6L2023.4 1268.6L2026.1 1271.3L2030.1 1270.6L2035.6 1269.3L2039.1 1263.2L2039.3 1247.6L2040.6 1247.6L2040.8 1263.2L2043 1246.9L2044.8 1246.2L2045.7 1271.3L2048.6 1263.2L2048.8 1240.1L2050.1 1240.1L2050.3 1263.2L2052.5 1271.3L2058.6 1271.3L2062.7 1267.2L2066 1263.2L2068.1 1267.2L2070.8 1268.6L2073.5 1267.2L2076.2 1270.6L2080.3 1269.9L2083.6 1263.2L2086.5 1255L2087 616L2088.4 616L2088.9 1236.1L2090.8 1255L2092.4 1246.9L2093.8 1199.5L2096.2 1198.8L2097.2 1246.9L2098.2 1255L2099.6 1255L2100.8 1267.2L2103.3 1267.9L2108.7 1267.2L2110.4 1255L2111.7 1255L2112.8 1261.8L2115.5 1259.8L2120.9 1260.5L2125 1262.5L2127.7 1249.6L2129 1249.6L2131.5 1263.2L2134.4 1265.9L2135.8 1271.3L2141.2 1272L2144.6 1271.3L2146 1265.2L2147.3 1265.2L2148 1271.3L2150 1272L2151.6 1272.9L2153.6 1264.7L2156.4 1263.3L2159.9 1237.4L2160 1206L2161.4 1206L2161.5 1244.2L2163.2 1267.4L2165.9 1273.5L2168.7 1270.1L2172.7 1272.2L2179.6 1272.2L2183.7 1268.8L2185 1263.3L2186.4 1263.3L2187.1 1268.8L2189.1 1268.8L2191.8 1272.9L2197.3 1270.8L2198.8 1264.7L2199.2 958.5L2200.3 958.6L2200.6 1082.5L2206.2 1082.6L2206.4 1270.8L2211 1272.9L2214.4 1270.1L2219.8 1264.7L2223.2 1264.7L2226 1274.8L2229.4 1274.8L2230.7 1272.2L2238.2 1272.2L2239.5 1264.7L2240.8 1264.7L2241.7 1271.5L2243.7 1268.8L2245.7 1271.5L2251.9 1271.5L2253.9 1268.8L2256.7 1264.7L2259.5 1267.4L2259.7 1216.9L2261.1 1216.9L2261.2 1272.9L2265.5 1272.9L2266.9 1268.8L2268.9 1270.8L2271 1274.2L2275.9 1270.1L2276.4 1238.7L2277.8 1238.7L2279.9 1244.2L2281.2 1270.1L2284.8 1264.7L2285.1 1250.3L2286.5 1250.3L2286.6 1267.4L2291.5 1272.9L2295.5 1273.5L2296.9 1271.5L2299.6 1272.2L2301 1264.7L2305.2 1237.4L2305.8 903L2307.1 903L2308.4 1266L2312.1 1261.9L2312.3 1185.5L2313.6 1185.5L2313.8 1237.4L2316 1267.4L2317.4 1264.7L2318.7 1244.2L2320.8 1245.6L2324.2 1256.5L2327.6 1264.7L2329.7 1273.5L2337.8 1274.2L2339.5 1268.1L2340.9 1268.1L2342.6 1273.5L2349.4 1273.5L2350.8 1271.5L2352.2 1274.2L2362.4 1272.9L2372 1274.2L2380.1 1272.2L2384.2 1268.8L2387 1272.9L2390.4 1264.7L2390.6 1180.8L2391.9 1180.8L2392.1 1261.9L2396.2 1251L2396.4 1231.9L2397.7 1231.9L2397.9 1272.9L2407.4 1272.9L2417 1274.2L2418.2 1267.4L2419.6 1267.4L2420.4 1274.2L2426.5 1273.5L2429.9 1268.8L2432 1268.8L2432.5 1257.8L2433.8 1257.8L2434 1272.9L2439.5 1274.2L2440.9 1268.1L2442.2 1266L2443.1 1266" clip-path="url(#cp)" fill="none" stroke="#5858FF" stroke-width="4.17" stroke-linejoin="round" stroke-linecap="butt"/>
<rect x="2234.7" y="133.0" width="208.36000000000013" height="572.4" fill="#fff" stroke="#000" stroke-width="2.6"/>
<rect x="2312.9" y="146.75" width="116.19999999999982" height="91.94999999999999" fill="#FF0000"/>
<rect x="2312.9" y="238.2" width="116.19999999999982" height="92.10000000000002" fill="#FDA400"/>
<rect x="2312.9" y="329.8" width="116.19999999999982" height="91.80000000000001" fill="#24FF02"/>
<rect x="2312.9" y="421.1" width="116.19999999999982" height="92.29999999999995" fill="#86CEF9"/>
<rect x="2312.9" y="512.9" width="116.19999999999982" height="91.60000000000002" fill="#020080"/>
<rect x="2312.9" y="146.75" width="116.19999999999982" height="457.25" fill="none" stroke="#000" stroke-width="2.22"/>
<path d="M2306.9 146.75H2312.9" stroke="#000" stroke-width="2.22"/>
<path d="M2303.2000000000003 238.2H2312.9" stroke="#000" stroke-width="2.22"/>
<path d="M2303.2000000000003 329.8H2312.9" stroke="#000" stroke-width="2.22"/>
<path d="M2303.2000000000003 421.1H2312.9" stroke="#000" stroke-width="2.22"/>
<path d="M2303.2000000000003 512.9H2312.9" stroke="#000" stroke-width="2.22"/>
<path d="M2306.9 604.0H2312.9" stroke="#000" stroke-width="2.22"/>
<text x="2292.3" y="249.1" font-size="30.4" text-anchor="end" textLength="42.3" lengthAdjust="spacingAndGlyphs">0.8</text>
<text x="2292.3" y="340.7" font-size="30.4" text-anchor="end" textLength="42.3" lengthAdjust="spacingAndGlyphs">0.6</text>
<text x="2292.3" y="432.0" font-size="30.4" text-anchor="end" textLength="42.3" lengthAdjust="spacingAndGlyphs">0.4</text>
<text x="2292.3" y="523.8" font-size="30.4" text-anchor="end" textLength="42.3" lengthAdjust="spacingAndGlyphs">0.2</text>
<text x="2330.7" y="677.4" font-size="35.5" textLength="42" lengthAdjust="spacingAndGlyphs">LD</text>
<text x="2383.5" y="677.4" font-size="35.5" font-style="italic" textLength="12" lengthAdjust="spacingAndGlyphs">r</text>
<text x="2400.2" y="664.9" font-size="23" textLength="13.4" lengthAdjust="spacingAndGlyphs">2</text>
<g clip-path="url(#cg)">
<path d="M110 1355.5H120.9" stroke="#020080" stroke-width="3" fill="none"/>
<text x="117.5" y="1332" font-size="31.6" font-style="italic" textLength="131.7" lengthAdjust="spacingAndGlyphs">ACYP2-&gt;</text>
<path d="M144.2 1419.0H203.7" stroke="#020080" stroke-width="3" fill="none"/>
<rect x="159" y="1403.2" width="1.25" height="31.6" fill="#020080"/>
<rect x="177" y="1403.2" width="1.25" height="31.6" fill="#020080"/>
<rect x="200.8" y="1403.2" width="1.25" height="31.6" fill="#020080"/>
<text x="173.1" y="1395.5" font-size="31.6" font-style="italic" textLength="154.5" lengthAdjust="spacingAndGlyphs">C2orf73-&gt;</text>
<path d="M277.2 1482.3H505.8" stroke="#020080" stroke-width="3" fill="none"/>
<rect x="277.9" y="1466.5" width="2" height="31.6" fill="#020080"/>
<rect x="340.8" y="1466.5" width="1.25" height="31.6" fill="#020080"/>
<rect x="352.9" y="1466.5" width="2" height="31.6" fill="#020080"/>
<rect x="385.8" y="1466.5" width="1.25" height="31.6" fill="#020080"/>
<rect x="428.8" y="1466.5" width="1.25" height="31.6" fill="#020080"/>
<rect x="446.8" y="1466.5" width="1.25" height="31.6" fill="#020080"/>
<rect x="448.9" y="1466.5" width="1.25" height="31.6" fill="#020080"/>
<rect x="460.8" y="1466.5" width="1.25" height="31.6" fill="#020080"/>
<rect x="463.1" y="1466.5" width="1.25" height="31.6" fill="#020080"/>
<rect x="485.8" y="1466.5" width="1.25" height="31.6" fill="#020080"/>
<rect x="488.1" y="1466.5" width="1.25" height="31.6" fill="#020080"/>
<rect x="490.1" y="1466.5" width="1.25" height="31.6" fill="#020080"/>
<rect x="492.1" y="1466.5" width="1.25" height="31.6" fill="#020080"/>
<rect x="493.8" y="1466.5" width="2" height="31.6" fill="#020080"/>
<rect x="496.7" y="1466.5" width="2" height="31.6" fill="#020080"/>
<rect x="503.9" y="1466.5" width="1.25" height="31.6" fill="#020080"/>
<text x="313.1" y="1458.8" font-size="31.6" font-style="italic" textLength="152.5" lengthAdjust="spacingAndGlyphs">SPTBN1-&gt;</text>
<path d="M559.8 1355.5H825.1" stroke="#020080" stroke-width="3" fill="none"/>
<rect x="561.7" y="1339.7" width="1.25" height="31.6" fill="#020080"/>
<rect x="658.9" y="1339.7" width="1.25" height="31.6" fill="#020080"/>
<rect x="694.3" y="1339.7" width="1.25" height="31.6" fill="#020080"/>
<rect x="697.9" y="1339.7" width="1.25" height="31.6" fill="#020080"/>
<rect x="711.8" y="1339.7" width="3" height="31.6" fill="#020080"/>
<rect x="726" y="1339.7" width="3" height="31.6" fill="#020080"/>
<rect x="739.2" y="1339.7" width="1.25" height="31.6" fill="#020080"/>
<rect x="741.7" y="1339.7" width="1.25" height="31.6" fill="#020080"/>
<rect x="777.1" y="1339.7" width="1.25" height="31.6" fill="#020080"/>
<rect x="803.8" y="1339.7" width="1.25" height="31.6" fill="#020080"/>
<rect x="808.1" y="1339.7" width="1.25" height="31.6" fill="#020080"/>
<rect x="812.7" y="1339.7" width="1.25" height="31.6" fill="#020080"/>
<rect x="816" y="1339.7" width="1.25" height="31.6" fill="#020080"/>
<rect x="819.2" y="1339.7" width="1.25" height="31.6" fill="#020080"/>
<rect x="821" y="1339.7" width="2" height="31.6" fill="#020080"/>
<text x="633.8" y="1332" font-size="31.6" font-style="italic" textLength="114.7" lengthAdjust="spacingAndGlyphs">EML6-&gt;</text>
<path d="M823 1419.0H973.9" stroke="#020080" stroke-width="3" fill="none"/>
<rect x="824" y="1403.2" width="2" height="31.6" fill="#020080"/>
<rect x="880.2" y="1403.2" width="2" height="31.6" fill="#020080"/>
<rect x="905.1" y="1403.2" width="1.5" height="31.6" fill="#020080"/>
<text x="783" y="1395.5" font-size="31.6" font-style="italic" textLength="112.7" lengthAdjust="spacingAndGlyphs">&lt;-RTN4</text>
<path d="M1097.4 1355.5H1103.9" stroke="#020080" stroke-width="3" fill="none"/>
<rect x="1098.9" y="1339.7" width="3" height="31.6" fill="#020080"/>
<text x="947.6" y="1332" font-size="31.6" font-style="italic" textLength="150.8" lengthAdjust="spacingAndGlyphs">RPS27A-&gt;</text>
<path d="M1036.8 1482.3H1100.8" stroke="#020080" stroke-width="3" fill="none"/>
<rect x="1037.9" y="1466.5" width="1.25" height="31.6" fill="#020080"/>
<rect x="1098" y="1466.5" width="1.25" height="31.6" fill="#020080"/>
<text x="932.4" y="1458.8" font-size="31.6" font-style="italic" textLength="133" lengthAdjust="spacingAndGlyphs">&lt;-CLHC1</text>
<path d="M1101.8 1546.3H1139.7" stroke="#020080" stroke-width="3" fill="none"/>
<rect x="1109.9" y="1530.5" width="1.25" height="31.6" fill="#020080"/>
<rect x="1112.8" y="1530.5" width="1.25" height="31.6" fill="#020080"/>
<rect x="1137.1" y="1530.5" width="1.25" height="31.6" fill="#020080"/>
<text x="1059.3" y="1522.8" font-size="31.6" font-style="italic" textLength="122.9" lengthAdjust="spacingAndGlyphs">&lt;-MTIF2</text>
<path d="M1155.9 1609.3H1299.1" stroke="#FF0000" stroke-width="3" fill="none"/>
<rect x="1156.9" y="1593.5" width="4" height="31.6" fill="#FF0000"/>
<rect x="1163.6" y="1593.5" width="2" height="31.6" fill="#FF0000"/>
<rect x="1179" y="1593.5" width="1.25" height="31.6" fill="#FF0000"/>
<rect x="1203.9" y="1593.5" width="1.25" height="31.6" fill="#FF0000"/>
<rect x="1205.7" y="1593.5" width="1.25" height="31.6" fill="#FF0000"/>
<rect x="1221.9" y="1593.5" width="1.25" height="31.6" fill="#FF0000"/>
<rect x="1274.8" y="1593.5" width="1.25" height="31.6" fill="#FF0000"/>
<rect x="1278.9" y="1593.5" width="3" height="31.6" fill="#FF0000"/>
<rect x="1296" y="1593.5" width="1.25" height="31.6" fill="#FF0000"/>
<text x="1047.2" y="1585.8" font-size="31.6" font-style="italic" textLength="178.5" lengthAdjust="spacingAndGlyphs">&lt;-CCDC88A</text>
<path d="M1400.9 1355.5H1432.2" stroke="#020080" stroke-width="3" fill="none"/>
<rect x="1401.9" y="1339.7" width="1.25" height="31.6" fill="#020080"/>
<rect x="1414" y="1339.7" width="1.25" height="31.6" fill="#020080"/>
<rect x="1421.7" y="1339.7" width="1.25" height="31.6" fill="#020080"/>
<rect x="1428.8" y="1339.7" width="1.25" height="31.6" fill="#020080"/>
<text x="1236.5" y="1332" font-size="31.6" font-style="italic" textLength="178.1" lengthAdjust="spacingAndGlyphs">CCDC104-&gt;</text>
<path d="M1430.2 1419.0H1509.2" stroke="#020080" stroke-width="3" fill="none"/>
<rect x="1430.8" y="1403.2" width="3.5" height="31.6" fill="#020080"/>
<rect x="1448.8" y="1403.2" width="1.25" height="31.6" fill="#020080"/>
<rect x="1452.5" y="1403.2" width="1.25" height="31.6" fill="#020080"/>
<rect x="1484.9" y="1403.2" width="1.25" height="31.6" fill="#020080"/>
<rect x="1502.1" y="1403.2" width="2" height="31.6" fill="#020080"/>
<rect x="1504.9" y="1403.2" width="2" height="31.6" fill="#020080"/>
<text x="1331.6" y="1395.5" font-size="31.6" font-style="italic" textLength="136.7" lengthAdjust="spacingAndGlyphs">&lt;-SMEK2</text>
<path d="M1522 1482.3H1588.2" stroke="#020080" stroke-width="3" fill="none"/>
<rect x="1522.9" y="1466.5" width="3" height="31.6" fill="#020080"/>
<rect x="1533.9" y="1466.5" width="1.25" height="31.6" fill="#020080"/>
<rect x="1546" y="1466.5" width="1.25" height="31.6" fill="#020080"/>
<rect x="1571.9" y="1466.5" width="1.25" height="31.6" fill="#020080"/>
<text x="1424.8" y="1458.8" font-size="31.6" font-style="italic" textLength="126.9" lengthAdjust="spacingAndGlyphs">&lt;-PNPT1</text>
<path d="M1766.9 1355.5H1831.9" stroke="#020080" stroke-width="3" fill="none"/>
<rect x="1767.9" y="1339.7" width="2" height="31.6" fill="#020080"/>
<rect x="1778.9" y="1339.7" width="1.25" height="31.6" fill="#020080"/>
<rect x="1827.2" y="1339.7" width="3" height="31.6" fill="#020080"/>
<text x="1645.7" y="1332" font-size="31.6" font-style="italic" textLength="149.8" lengthAdjust="spacingAndGlyphs">&lt;-EFEMP1</text>
<path d="M2103.2 1355.5H2320.1" stroke="#020080" stroke-width="3" fill="none"/>
<rect x="2103.8" y="1339.7" width="1.25" height="31.6" fill="#020080"/>
<rect x="2112.7" y="1339.7" width="1.25" height="31.6" fill="#020080"/>
<rect x="2302.9" y="1339.7" width="1.25" height="31.6" fill="#020080"/>
<rect x="2316" y="1339.7" width="2" height="31.6" fill="#020080"/>
<text x="2029.7" y="1332" font-size="31.6" font-style="italic" textLength="179" lengthAdjust="spacingAndGlyphs">CCDC85A-&gt;</text>
</g>
<path d="M1220.0 1672.8V1291.9" stroke="#ff0000" stroke-opacity="0.5" stroke-width="5.56" stroke-dasharray="20.56 8.89" fill="none"/>
<g fill="none" stroke="#000" stroke-width="2.22">
<rect x="118.0" y="133.0" width="2325.06" height="1143.0"/>
<rect x="118.0" y="1291.9" width="2325.06" height="380.89999999999986"/>
<path d="M118 1276.0v9.7M118 1672.8v9.7"/>
<path d="M234.3 1276.0v9.7M234.3 1672.8v9.7"/>
<path d="M350.5 1276.0v9.7M350.5 1672.8v9.7"/>
<path d="M466.8 1276.0v9.7M466.8 1672.8v9.7"/>
<path d="M583 1276.0v9.7M583 1672.8v9.7"/>
<path d="M699.3 1276.0v9.7M699.3 1672.8v9.7"/>
<path d="M815.5 1276.0v9.7M815.5 1672.8v9.7"/>
<path d="M931.8 1276.0v9.7M931.8 1672.8v9.7"/>
<path d="M1048 1276.0v9.7M1048 1672.8v9.7"/>
<path d="M1164.3 1276.0v9.7M1164.3 1672.8v9.7"/>
<path d="M1280.5 1276.0v9.7M1280.5 1672.8v9.7"/>
<path d="M1396.8 1276.0v9.7M1396.8 1672.8v9.7"/>
<path d="M1513 1276.0v9.7M1513 1672.8v9.7"/>
<path d="M1629.3 1276.0v9.7M1629.3 1672.8v9.7"/>
<path d="M1745.5 1276.0v9.7M1745.5 1672.8v9.7"/>
<path d="M1861.8 1276.0v9.7M1861.8 1672.8v9.7"/>
<path d="M1978 1276.0v9.7M1978 1672.8v9.7"/>
<path d="M2094.3 1276.0v9.7M2094.3 1672.8v9.7"/>
<path d="M2210.6 1276.0v9.7M2210.6 1672.8v9.7"/>
<path d="M2326.8 1276.0v9.7M2326.8 1672.8v9.7"/>
<path d="M2443.1 1276.0v9.7M2443.1 1672.8v9.7"/>
<path d="M118.0 1276h-9.7"/>
<path d="M118.0 1056h-9.7"/>
<path d="M118.0 836h-9.7"/>
<path d="M118.0 616h-9.7"/>
<path d="M118.0 396h-9.7"/>
<path d="M118.0 176h-9.7"/>
<path d="M2443.06 1276h9.7"/>
<path d="M2443.06 1047.4h9.7"/>
<path d="M2443.06 818.8h9.7"/>
<path d="M2443.06 590.2h9.7"/>
<path d="M2443.06 361.6h9.7"/>
<path d="M2443.06 133h9.7"/>
</g>
<g font-size="30.4">
<text x="97.8" y="1287" text-anchor="end" textLength="17.3" lengthAdjust="spacingAndGlyphs">0</text>
<text x="97.8" y="1067" text-anchor="end" textLength="17.3" lengthAdjust="spacingAndGlyphs">2</text>
<text x="97.8" y="847" text-anchor="end" textLength="17.3" lengthAdjust="spacingAndGlyphs">4</text>
<text x="97.8" y="627" text-anchor="end" textLength="17.3" lengthAdjust="spacingAndGlyphs">6</text>
<text x="97.8" y="406.9" text-anchor="end" textLength="17.3" lengthAdjust="spacingAndGlyphs">8</text>
<text x="97.8" y="186.9" text-anchor="end" textLength="34.6" lengthAdjust="spacingAndGlyphs">10</text>
<text x="2462.6" y="1287" textLength="17.3" lengthAdjust="spacingAndGlyphs">0</text>
<text x="2462.6" y="1058.4" textLength="34.6" lengthAdjust="spacingAndGlyphs">20</text>
<text x="2462.6" y="829.8" textLength="34.6" lengthAdjust="spacingAndGlyphs">40</text>
<text x="2462.6" y="601.2" textLength="34.6" lengthAdjust="spacingAndGlyphs">60</text>
<text x="2462.6" y="372.6" textLength="34.6" lengthAdjust="spacingAndGlyphs">80</text>
<text x="2462.6" y="143.9" textLength="51.9" lengthAdjust="spacingAndGlyphs">100</text>
<text transform="translate(115.6 1737.8) rotate(-45)" x="0" y="10.5" text-anchor="middle" textLength="96" lengthAdjust="spacingAndGlyphs">54.532</text>
<text transform="translate(231.9 1737.8) rotate(-45)" x="0" y="10.5" text-anchor="middle" textLength="96" lengthAdjust="spacingAndGlyphs">54.642</text>
<text transform="translate(348.1 1737.8) rotate(-45)" x="0" y="10.5" text-anchor="middle" textLength="96" lengthAdjust="spacingAndGlyphs">54.752</text>
<text transform="translate(464.4 1737.8) rotate(-45)" x="0" y="10.5" text-anchor="middle" textLength="96" lengthAdjust="spacingAndGlyphs">54.862</text>
<text transform="translate(580.6 1737.8) rotate(-45)" x="0" y="10.5" text-anchor="middle" textLength="96" lengthAdjust="spacingAndGlyphs">54.972</text>
<text transform="translate(696.9 1737.8) rotate(-45)" x="0" y="10.5" text-anchor="middle" textLength="96" lengthAdjust="spacingAndGlyphs">55.082</text>
<text transform="translate(813.1 1737.8) rotate(-45)" x="0" y="10.5" text-anchor="middle" textLength="96" lengthAdjust="spacingAndGlyphs">55.192</text>
<text transform="translate(929.4 1737.8) rotate(-45)" x="0" y="10.5" text-anchor="middle" textLength="96" lengthAdjust="spacingAndGlyphs">55.302</text>
<text transform="translate(1045.6 1737.8) rotate(-45)" x="0" y="10.5" text-anchor="middle" textLength="96" lengthAdjust="spacingAndGlyphs">55.412</text>
<text transform="translate(1161.9 1737.8) rotate(-45)" x="0" y="10.5" text-anchor="middle" textLength="96" lengthAdjust="spacingAndGlyphs">55.522</text>
<text transform="translate(1278.1 1737.8) rotate(-45)" x="0" y="10.5" text-anchor="middle" textLength="96" lengthAdjust="spacingAndGlyphs">55.632</text>
<text transform="translate(1394.4 1737.8) rotate(-45)" x="0" y="10.5" text-anchor="middle" textLength="96" lengthAdjust="spacingAndGlyphs">55.742</text>
<text transform="translate(1510.6 1737.8) rotate(-45)" x="0" y="10.5" text-anchor="middle" textLength="96" lengthAdjust="spacingAndGlyphs">55.852</text>
<text transform="translate(1626.9 1737.8) rotate(-45)" x="0" y="10.5" text-anchor="middle" textLength="96" lengthAdjust="spacingAndGlyphs">55.962</text>
<text transform="translate(1743.1 1737.8) rotate(-45)" x="0" y="10.5" text-anchor="middle" textLength="96" lengthAdjust="spacingAndGlyphs">56.072</text>
<text transform="translate(1859.4 1737.8) rotate(-45)" x="0" y="10.5" text-anchor="middle" textLength="96" lengthAdjust="spacingAndGlyphs">56.182</text>
<text transform="translate(1975.6 1737.8) rotate(-45)" x="0" y="10.5" text-anchor="middle" textLength="96" lengthAdjust="spacingAndGlyphs">56.292</text>
<text transform="translate(2091.9 1737.8) rotate(-45)" x="0" y="10.5" text-anchor="middle" textLength="96" lengthAdjust="spacingAndGlyphs">56.402</text>
<text transform="translate(2208.2 1737.8) rotate(-45)" x="0" y="10.5" text-anchor="middle" textLength="96" lengthAdjust="spacingAndGlyphs">56.512</text>
<text transform="translate(2324.4 1737.8) rotate(-45)" x="0" y="10.5" text-anchor="middle" textLength="96" lengthAdjust="spacingAndGlyphs">56.622</text>
<text transform="translate(2440.7 1737.8) rotate(-45)" x="0" y="10.5" text-anchor="middle" textLength="96" lengthAdjust="spacingAndGlyphs">56.732</text>
<text x="1136.8" y="1814.5" textLength="287" lengthAdjust="spacingAndGlyphs">Chromosome 2 (MB)</text>
<text transform="translate(2547.6 898.8) rotate(-90)" x="0" y="0" textLength="385.6" lengthAdjust="spacingAndGlyphs">Recombination rate(cM/Mb)</text>
<text transform="translate(42.8 767.5) rotate(-90)" x="0" y="0" font-size="30.4" textLength="18" lengthAdjust="spacingAndGlyphs">−</text>
<text transform="translate(42.8 745.5) rotate(-90)" x="0" y="0" font-size="30.4" font-style="italic" textLength="40" lengthAdjust="spacingAndGlyphs">log</text>
<text transform="translate(47.8 701.2) rotate(-90)" x="0" y="0" font-size="17.6" textLength="21" lengthAdjust="spacingAndGlyphs">10</text>
<text transform="translate(42.8 680.0) rotate(-90)" x="0" y="0" font-size="30.4" font-style="italic" textLength="10.2" lengthAdjust="spacingAndGlyphs">(</text>
<text transform="translate(42.8 668.0) rotate(-90)" x="0" y="0" font-size="30.4" font-style="italic" textLength="18" lengthAdjust="spacingAndGlyphs">P</text>
<text transform="translate(42.8 648.5) rotate(-90)" x="0" y="0" font-size="30.4" font-style="italic" textLength="8" lengthAdjust="spacingAndGlyphs">)</text>
</g>
<g transform="translate(1312 100.7) rotate(-40.2)"><rect x="-117.2" y="-22.4" width="234.4" height="44.8" rx="9" ry="9" fill="#fff" stroke="#000" stroke-width="2.78"/><text x="-109" y="10.6" font-size="30.4" font-style="italic" textLength="214" lengthAdjust="spacingAndGlyphs">Chr2:55574452</text></g>
<path d="M1220.0 185V283" stroke="#000" stroke-width="2.78" fill="none"/><path d="M1212.8 280.4H1227.2L1220.0 294.8Z" fill="#000" stroke="#000" stroke-width="1.4" stroke-linejoin="round"/>
</svg>
</body></html>
